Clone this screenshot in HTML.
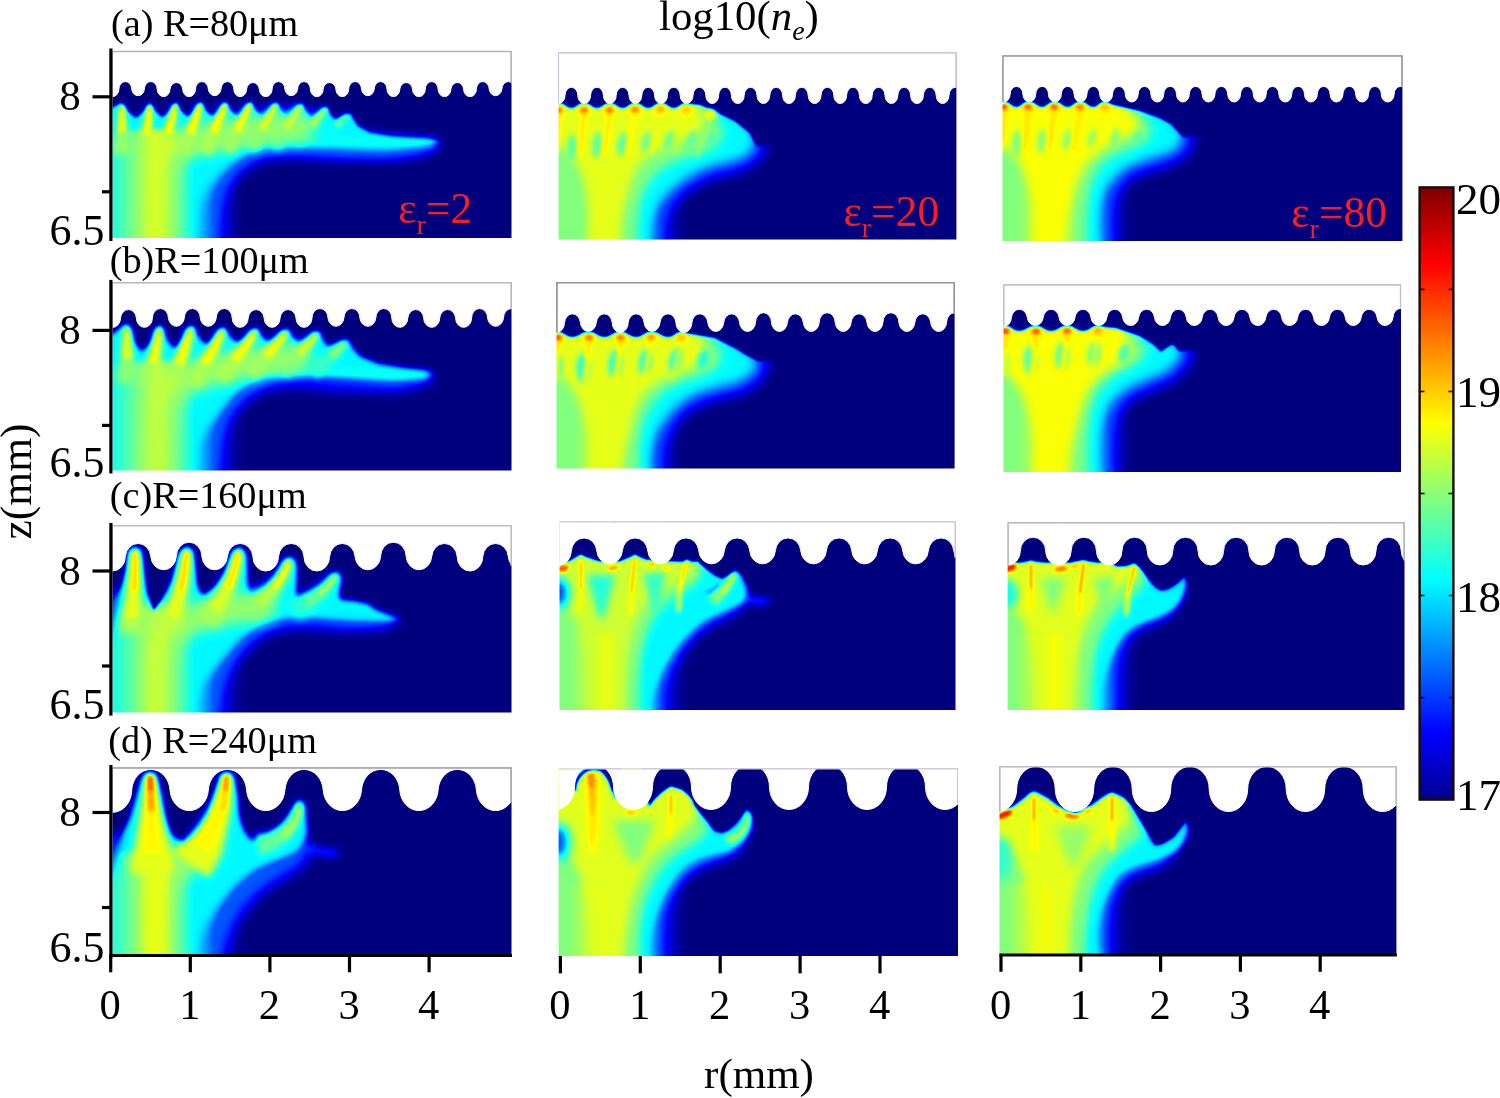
<!DOCTYPE html>
<html><head><meta charset="utf-8"><title>log10(ne)</title>
<style>html,body{margin:0;padding:0;background:#fff;overflow:hidden}body{width:1500px;height:1098px;position:relative}</style>
</head><body>
<svg width="1500" height="1098" viewBox="0 0 1500 1098" style="position:absolute;left:0;top:0">
<defs><linearGradient id="Ga11" gradientUnits="userSpaceOnUse" x1="72.5" y1="0" x2="238.5" y2="0"><stop offset="0.000" stop-color="rgb(102,102,102)"/><stop offset="0.241" stop-color="rgb(102,102,102)"/><stop offset="0.373" stop-color="rgb(128,128,128)"/><stop offset="0.500" stop-color="rgb(153,153,153)"/><stop offset="0.627" stop-color="rgb(128,128,128)"/><stop offset="0.723" stop-color="rgb(97,97,97)"/><stop offset="0.825" stop-color="rgb(64,64,64)"/><stop offset="0.904" stop-color="rgb(32,32,32)"/><stop offset="1.000" stop-color="rgb(0,0,0)"/></linearGradient><filter id="Ba15" filterUnits="userSpaceOnUse" x="52.5" y="-9" width="519" height="307" color-interpolation-filters="sRGB"><feGaussianBlur stdDeviation="5"/></filter><filter id="Ba11_8" filterUnits="userSpaceOnUse" x="52.5" y="-9" width="519" height="307" color-interpolation-filters="sRGB"><feGaussianBlur stdDeviation="1.8"/></filter><filter id="Ba15_5" filterUnits="userSpaceOnUse" x="52.5" y="-9" width="519" height="307" color-interpolation-filters="sRGB"><feGaussianBlur stdDeviation="5.5"/></filter><filter id="Ba16" filterUnits="userSpaceOnUse" x="52.5" y="-9" width="519" height="307" color-interpolation-filters="sRGB"><feGaussianBlur stdDeviation="6"/></filter><filter id="Ba13" filterUnits="userSpaceOnUse" x="52.5" y="-9" width="519" height="307" color-interpolation-filters="sRGB"><feGaussianBlur stdDeviation="3"/></filter><filter id="Ba17" filterUnits="userSpaceOnUse" x="52.5" y="-9" width="519" height="307" color-interpolation-filters="sRGB"><feGaussianBlur stdDeviation="7"/></filter><filter id="Ba11_7" filterUnits="userSpaceOnUse" x="52.5" y="-9" width="519" height="307" color-interpolation-filters="sRGB"><feGaussianBlur stdDeviation="1.7"/></filter><clipPath id="Ca1"><rect x="112.5" y="51" width="399" height="187"/></clipPath><filter id="jeta1" filterUnits="userSpaceOnUse" x="106.5" y="45" width="411" height="199" color-interpolation-filters="sRGB"><feComponentTransfer><feFuncR type="table" tableValues="0 0 0 0 0.5 1 1 1 0.5"/><feFuncG type="table" tableValues="0 0 0.5 1 1 1 0.5 0 0"/><feFuncB type="table" tableValues="0.5 1 1 1 0.5 0 0 0 0"/></feComponentTransfer></filter>
<linearGradient id="Ga21" gradientUnits="userSpaceOnUse" x1="518.6" y1="0" x2="680.6" y2="0"><stop offset="0.000" stop-color="rgb(117,117,117)"/><stop offset="0.247" stop-color="rgb(117,117,117)"/><stop offset="0.401" stop-color="rgb(130,130,130)"/><stop offset="0.469" stop-color="rgb(145,145,145)"/><stop offset="0.531" stop-color="rgb(158,158,158)"/><stop offset="0.593" stop-color="rgb(145,145,145)"/><stop offset="0.685" stop-color="rgb(122,122,122)"/><stop offset="0.778" stop-color="rgb(97,97,97)"/><stop offset="0.846" stop-color="rgb(64,64,64)"/><stop offset="0.901" stop-color="rgb(33,33,33)"/><stop offset="1.000" stop-color="rgb(0,0,0)"/></linearGradient><filter id="Ba26" filterUnits="userSpaceOnUse" x="498.6" y="-7.5" width="517.8" height="306.9" color-interpolation-filters="sRGB"><feGaussianBlur stdDeviation="6"/></filter><filter id="Ba24" filterUnits="userSpaceOnUse" x="498.6" y="-7.5" width="517.8" height="306.9" color-interpolation-filters="sRGB"><feGaussianBlur stdDeviation="4"/></filter><filter id="Ba25_5" filterUnits="userSpaceOnUse" x="498.6" y="-7.5" width="517.8" height="306.9" color-interpolation-filters="sRGB"><feGaussianBlur stdDeviation="5.5"/></filter><filter id="Ba25" filterUnits="userSpaceOnUse" x="498.6" y="-7.5" width="517.8" height="306.9" color-interpolation-filters="sRGB"><feGaussianBlur stdDeviation="5"/></filter><filter id="Ba22_5" filterUnits="userSpaceOnUse" x="498.6" y="-7.5" width="517.8" height="306.9" color-interpolation-filters="sRGB"><feGaussianBlur stdDeviation="2.5"/></filter><filter id="Ba22" filterUnits="userSpaceOnUse" x="498.6" y="-7.5" width="517.8" height="306.9" color-interpolation-filters="sRGB"><feGaussianBlur stdDeviation="2"/></filter><filter id="Ba21_1" filterUnits="userSpaceOnUse" x="498.6" y="-7.5" width="517.8" height="306.9" color-interpolation-filters="sRGB"><feGaussianBlur stdDeviation="1.1"/></filter><filter id="Ba22_2" filterUnits="userSpaceOnUse" x="498.6" y="-7.5" width="517.8" height="306.9" color-interpolation-filters="sRGB"><feGaussianBlur stdDeviation="2.2"/></filter><filter id="Ba21_5" filterUnits="userSpaceOnUse" x="498.6" y="-7.5" width="517.8" height="306.9" color-interpolation-filters="sRGB"><feGaussianBlur stdDeviation="1.5"/></filter><clipPath id="Ca2"><rect x="558.6" y="52.5" width="397.8" height="186.9"/></clipPath><filter id="jeta2" filterUnits="userSpaceOnUse" x="552.6" y="46.5" width="409.8" height="198.9" color-interpolation-filters="sRGB"><feComponentTransfer><feFuncR type="table" tableValues="0 0 0 0 0.5 1 1 1 0.5"/><feFuncG type="table" tableValues="0 0 0.5 1 1 1 0.5 0 0"/><feFuncB type="table" tableValues="0.5 1 1 1 0.5 0 0 0 0"/></feComponentTransfer></filter>
<linearGradient id="Ga31" gradientUnits="userSpaceOnUse" x1="962.5" y1="0" x2="1127.5" y2="0"><stop offset="0.000" stop-color="rgb(120,120,120)"/><stop offset="0.242" stop-color="rgb(120,120,120)"/><stop offset="0.394" stop-color="rgb(135,135,135)"/><stop offset="0.461" stop-color="rgb(150,150,150)"/><stop offset="0.527" stop-color="rgb(161,161,161)"/><stop offset="0.606" stop-color="rgb(150,150,150)"/><stop offset="0.703" stop-color="rgb(125,125,125)"/><stop offset="0.794" stop-color="rgb(97,97,97)"/><stop offset="0.855" stop-color="rgb(64,64,64)"/><stop offset="0.909" stop-color="rgb(33,33,33)"/><stop offset="1.000" stop-color="rgb(0,0,0)"/></linearGradient><filter id="Ba36" filterUnits="userSpaceOnUse" x="942.5" y="-4.5" width="519.9" height="305.5" color-interpolation-filters="sRGB"><feGaussianBlur stdDeviation="6"/></filter><filter id="Ba34" filterUnits="userSpaceOnUse" x="942.5" y="-4.5" width="519.9" height="305.5" color-interpolation-filters="sRGB"><feGaussianBlur stdDeviation="4"/></filter><filter id="Ba35_5" filterUnits="userSpaceOnUse" x="942.5" y="-4.5" width="519.9" height="305.5" color-interpolation-filters="sRGB"><feGaussianBlur stdDeviation="5.5"/></filter><filter id="Ba35" filterUnits="userSpaceOnUse" x="942.5" y="-4.5" width="519.9" height="305.5" color-interpolation-filters="sRGB"><feGaussianBlur stdDeviation="5"/></filter><filter id="Ba32_5" filterUnits="userSpaceOnUse" x="942.5" y="-4.5" width="519.9" height="305.5" color-interpolation-filters="sRGB"><feGaussianBlur stdDeviation="2.5"/></filter><filter id="Ba32" filterUnits="userSpaceOnUse" x="942.5" y="-4.5" width="519.9" height="305.5" color-interpolation-filters="sRGB"><feGaussianBlur stdDeviation="2"/></filter><filter id="Ba31_1" filterUnits="userSpaceOnUse" x="942.5" y="-4.5" width="519.9" height="305.5" color-interpolation-filters="sRGB"><feGaussianBlur stdDeviation="1.1"/></filter><filter id="Ba32_2" filterUnits="userSpaceOnUse" x="942.5" y="-4.5" width="519.9" height="305.5" color-interpolation-filters="sRGB"><feGaussianBlur stdDeviation="2.2"/></filter><filter id="Ba31_5" filterUnits="userSpaceOnUse" x="942.5" y="-4.5" width="519.9" height="305.5" color-interpolation-filters="sRGB"><feGaussianBlur stdDeviation="1.5"/></filter><clipPath id="Ca3"><rect x="1002.5" y="55.5" width="399.9" height="185.5"/></clipPath><filter id="jeta3" filterUnits="userSpaceOnUse" x="996.5" y="49.5" width="411.9" height="197.5" color-interpolation-filters="sRGB"><feComponentTransfer><feFuncR type="table" tableValues="0 0 0 0 0.5 1 1 1 0.5"/><feFuncG type="table" tableValues="0 0 0.5 1 1 1 0.5 0 0"/><feFuncB type="table" tableValues="0.5 1 1 1 0.5 0 0 0 0"/></feComponentTransfer></filter>
<linearGradient id="Gb11" gradientUnits="userSpaceOnUse" x1="72.5" y1="0" x2="238.5" y2="0"><stop offset="0.000" stop-color="rgb(99,99,99)"/><stop offset="0.241" stop-color="rgb(99,99,99)"/><stop offset="0.373" stop-color="rgb(122,122,122)"/><stop offset="0.512" stop-color="rgb(148,148,148)"/><stop offset="0.627" stop-color="rgb(125,125,125)"/><stop offset="0.729" stop-color="rgb(97,97,97)"/><stop offset="0.825" stop-color="rgb(64,64,64)"/><stop offset="0.904" stop-color="rgb(32,32,32)"/><stop offset="1.000" stop-color="rgb(0,0,0)"/></linearGradient><filter id="Bb16" filterUnits="userSpaceOnUse" x="52.5" y="222.4" width="519" height="308.1" color-interpolation-filters="sRGB"><feGaussianBlur stdDeviation="6"/></filter><filter id="Bb11_9" filterUnits="userSpaceOnUse" x="52.5" y="222.4" width="519" height="308.1" color-interpolation-filters="sRGB"><feGaussianBlur stdDeviation="1.9"/></filter><filter id="Bb14_5" filterUnits="userSpaceOnUse" x="52.5" y="222.4" width="519" height="308.1" color-interpolation-filters="sRGB"><feGaussianBlur stdDeviation="4.5"/></filter><filter id="Bb13" filterUnits="userSpaceOnUse" x="52.5" y="222.4" width="519" height="308.1" color-interpolation-filters="sRGB"><feGaussianBlur stdDeviation="3"/></filter><filter id="Bb17" filterUnits="userSpaceOnUse" x="52.5" y="222.4" width="519" height="308.1" color-interpolation-filters="sRGB"><feGaussianBlur stdDeviation="7"/></filter><filter id="Bb15" filterUnits="userSpaceOnUse" x="52.5" y="222.4" width="519" height="308.1" color-interpolation-filters="sRGB"><feGaussianBlur stdDeviation="5"/></filter><filter id="Bb13_2" filterUnits="userSpaceOnUse" x="52.5" y="222.4" width="519" height="308.1" color-interpolation-filters="sRGB"><feGaussianBlur stdDeviation="3.2"/></filter><clipPath id="Cb1"><rect x="112.5" y="282.4" width="399" height="188.1"/></clipPath><filter id="jetb1" filterUnits="userSpaceOnUse" x="106.5" y="276.4" width="411" height="200.1" color-interpolation-filters="sRGB"><feComponentTransfer><feFuncR type="table" tableValues="0 0 0 0 0.5 1 1 1 0.5"/><feFuncG type="table" tableValues="0 0 0.5 1 1 1 0.5 0 0"/><feFuncB type="table" tableValues="0.5 1 1 1 0.5 0 0 0 0"/></feComponentTransfer></filter>
<linearGradient id="Gb21" gradientUnits="userSpaceOnUse" x1="516.5" y1="0" x2="677.5" y2="0"><stop offset="0.000" stop-color="rgb(117,117,117)"/><stop offset="0.248" stop-color="rgb(117,117,117)"/><stop offset="0.404" stop-color="rgb(133,133,133)"/><stop offset="0.478" stop-color="rgb(148,148,148)"/><stop offset="0.547" stop-color="rgb(158,158,158)"/><stop offset="0.609" stop-color="rgb(148,148,148)"/><stop offset="0.702" stop-color="rgb(125,125,125)"/><stop offset="0.789" stop-color="rgb(97,97,97)"/><stop offset="0.851" stop-color="rgb(61,61,61)"/><stop offset="0.901" stop-color="rgb(33,33,33)"/><stop offset="1.000" stop-color="rgb(0,0,0)"/></linearGradient><filter id="Bb26" filterUnits="userSpaceOnUse" x="496.5" y="222.4" width="518.1" height="306" color-interpolation-filters="sRGB"><feGaussianBlur stdDeviation="6"/></filter><filter id="Bb24" filterUnits="userSpaceOnUse" x="496.5" y="222.4" width="518.1" height="306" color-interpolation-filters="sRGB"><feGaussianBlur stdDeviation="4"/></filter><filter id="Bb25_5" filterUnits="userSpaceOnUse" x="496.5" y="222.4" width="518.1" height="306" color-interpolation-filters="sRGB"><feGaussianBlur stdDeviation="5.5"/></filter><filter id="Bb25" filterUnits="userSpaceOnUse" x="496.5" y="222.4" width="518.1" height="306" color-interpolation-filters="sRGB"><feGaussianBlur stdDeviation="5"/></filter><filter id="Bb22_5" filterUnits="userSpaceOnUse" x="496.5" y="222.4" width="518.1" height="306" color-interpolation-filters="sRGB"><feGaussianBlur stdDeviation="2.5"/></filter><filter id="Bb22" filterUnits="userSpaceOnUse" x="496.5" y="222.4" width="518.1" height="306" color-interpolation-filters="sRGB"><feGaussianBlur stdDeviation="2"/></filter><filter id="Bb21_1" filterUnits="userSpaceOnUse" x="496.5" y="222.4" width="518.1" height="306" color-interpolation-filters="sRGB"><feGaussianBlur stdDeviation="1.1"/></filter><filter id="Bb22_2" filterUnits="userSpaceOnUse" x="496.5" y="222.4" width="518.1" height="306" color-interpolation-filters="sRGB"><feGaussianBlur stdDeviation="2.2"/></filter><filter id="Bb21_5" filterUnits="userSpaceOnUse" x="496.5" y="222.4" width="518.1" height="306" color-interpolation-filters="sRGB"><feGaussianBlur stdDeviation="1.5"/></filter><clipPath id="Cb2"><rect x="556.5" y="282.4" width="398.1" height="186"/></clipPath><filter id="jetb2" filterUnits="userSpaceOnUse" x="550.5" y="276.4" width="410.1" height="198" color-interpolation-filters="sRGB"><feComponentTransfer><feFuncR type="table" tableValues="0 0 0 0 0.5 1 1 1 0.5"/><feFuncG type="table" tableValues="0 0 0.5 1 1 1 0.5 0 0"/><feFuncB type="table" tableValues="0.5 1 1 1 0.5 0 0 0 0"/></feComponentTransfer></filter>
<linearGradient id="Gb31" gradientUnits="userSpaceOnUse" x1="963.4" y1="0" x2="1127.4" y2="0"><stop offset="0.000" stop-color="rgb(120,120,120)"/><stop offset="0.244" stop-color="rgb(120,120,120)"/><stop offset="0.396" stop-color="rgb(135,135,135)"/><stop offset="0.463" stop-color="rgb(150,150,150)"/><stop offset="0.530" stop-color="rgb(161,161,161)"/><stop offset="0.610" stop-color="rgb(150,150,150)"/><stop offset="0.707" stop-color="rgb(125,125,125)"/><stop offset="0.799" stop-color="rgb(97,97,97)"/><stop offset="0.860" stop-color="rgb(64,64,64)"/><stop offset="0.915" stop-color="rgb(33,33,33)"/><stop offset="1.000" stop-color="rgb(0,0,0)"/></linearGradient><filter id="Bb36" filterUnits="userSpaceOnUse" x="943.4" y="224.5" width="517.6" height="307.5" color-interpolation-filters="sRGB"><feGaussianBlur stdDeviation="6"/></filter><filter id="Bb34" filterUnits="userSpaceOnUse" x="943.4" y="224.5" width="517.6" height="307.5" color-interpolation-filters="sRGB"><feGaussianBlur stdDeviation="4"/></filter><filter id="Bb35_5" filterUnits="userSpaceOnUse" x="943.4" y="224.5" width="517.6" height="307.5" color-interpolation-filters="sRGB"><feGaussianBlur stdDeviation="5.5"/></filter><filter id="Bb35" filterUnits="userSpaceOnUse" x="943.4" y="224.5" width="517.6" height="307.5" color-interpolation-filters="sRGB"><feGaussianBlur stdDeviation="5"/></filter><filter id="Bb32_5" filterUnits="userSpaceOnUse" x="943.4" y="224.5" width="517.6" height="307.5" color-interpolation-filters="sRGB"><feGaussianBlur stdDeviation="2.5"/></filter><filter id="Bb32" filterUnits="userSpaceOnUse" x="943.4" y="224.5" width="517.6" height="307.5" color-interpolation-filters="sRGB"><feGaussianBlur stdDeviation="2"/></filter><filter id="Bb31_1" filterUnits="userSpaceOnUse" x="943.4" y="224.5" width="517.6" height="307.5" color-interpolation-filters="sRGB"><feGaussianBlur stdDeviation="1.1"/></filter><filter id="Bb32_2" filterUnits="userSpaceOnUse" x="943.4" y="224.5" width="517.6" height="307.5" color-interpolation-filters="sRGB"><feGaussianBlur stdDeviation="2.2"/></filter><filter id="Bb31_5" filterUnits="userSpaceOnUse" x="943.4" y="224.5" width="517.6" height="307.5" color-interpolation-filters="sRGB"><feGaussianBlur stdDeviation="1.5"/></filter><clipPath id="Cb3"><rect x="1003.4" y="284.5" width="397.6" height="187.5"/></clipPath><filter id="jetb3" filterUnits="userSpaceOnUse" x="997.4" y="278.5" width="409.6" height="199.5" color-interpolation-filters="sRGB"><feComponentTransfer><feFuncR type="table" tableValues="0 0 0 0 0.5 1 1 1 0.5"/><feFuncG type="table" tableValues="0 0 0.5 1 1 1 0.5 0 0"/><feFuncB type="table" tableValues="0.5 1 1 1 0.5 0 0 0 0"/></feComponentTransfer></filter>
<linearGradient id="Gc11" gradientUnits="userSpaceOnUse" x1="72.5" y1="0" x2="238.5" y2="0"><stop offset="0.000" stop-color="rgb(99,99,99)"/><stop offset="0.241" stop-color="rgb(99,99,99)"/><stop offset="0.373" stop-color="rgb(122,122,122)"/><stop offset="0.506" stop-color="rgb(148,148,148)"/><stop offset="0.627" stop-color="rgb(125,125,125)"/><stop offset="0.729" stop-color="rgb(97,97,97)"/><stop offset="0.825" stop-color="rgb(64,64,64)"/><stop offset="0.904" stop-color="rgb(32,32,32)"/><stop offset="1.000" stop-color="rgb(0,0,0)"/></linearGradient><filter id="Bc18" filterUnits="userSpaceOnUse" x="52.5" y="465.4" width="519" height="307.2" color-interpolation-filters="sRGB"><feGaussianBlur stdDeviation="8"/></filter><filter id="Bc12_2" filterUnits="userSpaceOnUse" x="52.5" y="465.4" width="519" height="307.2" color-interpolation-filters="sRGB"><feGaussianBlur stdDeviation="2.2"/></filter><filter id="Bc14_5" filterUnits="userSpaceOnUse" x="52.5" y="465.4" width="519" height="307.2" color-interpolation-filters="sRGB"><feGaussianBlur stdDeviation="4.5"/></filter><filter id="Bc16" filterUnits="userSpaceOnUse" x="52.5" y="465.4" width="519" height="307.2" color-interpolation-filters="sRGB"><feGaussianBlur stdDeviation="6"/></filter><filter id="Bc17" filterUnits="userSpaceOnUse" x="52.5" y="465.4" width="519" height="307.2" color-interpolation-filters="sRGB"><feGaussianBlur stdDeviation="7"/></filter><filter id="Bc15" filterUnits="userSpaceOnUse" x="52.5" y="465.4" width="519" height="307.2" color-interpolation-filters="sRGB"><feGaussianBlur stdDeviation="5"/></filter><filter id="Bc11_8" filterUnits="userSpaceOnUse" x="52.5" y="465.4" width="519" height="307.2" color-interpolation-filters="sRGB"><feGaussianBlur stdDeviation="1.8"/></filter><filter id="Bc14" filterUnits="userSpaceOnUse" x="52.5" y="465.4" width="519" height="307.2" color-interpolation-filters="sRGB"><feGaussianBlur stdDeviation="4"/></filter><filter id="Bc12_8" filterUnits="userSpaceOnUse" x="52.5" y="465.4" width="519" height="307.2" color-interpolation-filters="sRGB"><feGaussianBlur stdDeviation="2.8"/></filter><clipPath id="Cc1"><rect x="112.5" y="525.4" width="399" height="187.2"/></clipPath><filter id="jetc1" filterUnits="userSpaceOnUse" x="106.5" y="519.4" width="411" height="199.2" color-interpolation-filters="sRGB"><feComponentTransfer><feFuncR type="table" tableValues="0 0 0 0 0.5 1 1 1 0.5"/><feFuncG type="table" tableValues="0 0 0.5 1 1 1 0.5 0 0"/><feFuncB type="table" tableValues="0.5 1 1 1 0.5 0 0 0 0"/></feComponentTransfer></filter>
<linearGradient id="Gc21" gradientUnits="userSpaceOnUse" x1="519.5" y1="0" x2="681.5" y2="0"><stop offset="0.000" stop-color="rgb(120,120,120)"/><stop offset="0.247" stop-color="rgb(120,120,120)"/><stop offset="0.401" stop-color="rgb(140,140,140)"/><stop offset="0.537" stop-color="rgb(158,158,158)"/><stop offset="0.630" stop-color="rgb(145,145,145)"/><stop offset="0.685" stop-color="rgb(128,128,128)"/><stop offset="0.778" stop-color="rgb(97,97,97)"/><stop offset="0.846" stop-color="rgb(64,64,64)"/><stop offset="0.901" stop-color="rgb(33,33,33)"/><stop offset="1.000" stop-color="rgb(0,0,0)"/></linearGradient><filter id="Bc27" filterUnits="userSpaceOnUse" x="499.5" y="461.5" width="516" height="308.5" color-interpolation-filters="sRGB"><feGaussianBlur stdDeviation="7"/></filter><filter id="Bc22_6" filterUnits="userSpaceOnUse" x="499.5" y="461.5" width="516" height="308.5" color-interpolation-filters="sRGB"><feGaussianBlur stdDeviation="2.6"/></filter><filter id="Bc25_5" filterUnits="userSpaceOnUse" x="499.5" y="461.5" width="516" height="308.5" color-interpolation-filters="sRGB"><feGaussianBlur stdDeviation="5.5"/></filter><filter id="Bc25" filterUnits="userSpaceOnUse" x="499.5" y="461.5" width="516" height="308.5" color-interpolation-filters="sRGB"><feGaussianBlur stdDeviation="5"/></filter><filter id="Bc23" filterUnits="userSpaceOnUse" x="499.5" y="461.5" width="516" height="308.5" color-interpolation-filters="sRGB"><feGaussianBlur stdDeviation="3"/></filter><filter id="Bc21_8" filterUnits="userSpaceOnUse" x="499.5" y="461.5" width="516" height="308.5" color-interpolation-filters="sRGB"><feGaussianBlur stdDeviation="1.8"/></filter><filter id="Bc21_4" filterUnits="userSpaceOnUse" x="499.5" y="461.5" width="516" height="308.5" color-interpolation-filters="sRGB"><feGaussianBlur stdDeviation="1.4"/></filter><filter id="Bc22_2" filterUnits="userSpaceOnUse" x="499.5" y="461.5" width="516" height="308.5" color-interpolation-filters="sRGB"><feGaussianBlur stdDeviation="2.2"/></filter><filter id="Bc23_5" filterUnits="userSpaceOnUse" x="499.5" y="461.5" width="516" height="308.5" color-interpolation-filters="sRGB"><feGaussianBlur stdDeviation="3.5"/></filter><filter id="Bc22_5" filterUnits="userSpaceOnUse" x="499.5" y="461.5" width="516" height="308.5" color-interpolation-filters="sRGB"><feGaussianBlur stdDeviation="2.5"/></filter><filter id="Bc23_2" filterUnits="userSpaceOnUse" x="499.5" y="461.5" width="516" height="308.5" color-interpolation-filters="sRGB"><feGaussianBlur stdDeviation="3.2"/></filter><filter id="Bc22_8" filterUnits="userSpaceOnUse" x="499.5" y="461.5" width="516" height="308.5" color-interpolation-filters="sRGB"><feGaussianBlur stdDeviation="2.8"/></filter><filter id="Bc21_2" filterUnits="userSpaceOnUse" x="499.5" y="461.5" width="516" height="308.5" color-interpolation-filters="sRGB"><feGaussianBlur stdDeviation="1.2"/></filter><filter id="Bc21_3" filterUnits="userSpaceOnUse" x="499.5" y="461.5" width="516" height="308.5" color-interpolation-filters="sRGB"><feGaussianBlur stdDeviation="1.3"/></filter><filter id="Bc21_5" filterUnits="userSpaceOnUse" x="499.5" y="461.5" width="516" height="308.5" color-interpolation-filters="sRGB"><feGaussianBlur stdDeviation="1.5"/></filter><clipPath id="Cc2"><rect x="559.5" y="521.5" width="396" height="188.5"/></clipPath><filter id="jetc2" filterUnits="userSpaceOnUse" x="553.5" y="515.5" width="408" height="200.5" color-interpolation-filters="sRGB"><feComponentTransfer><feFuncR type="table" tableValues="0 0 0 0 0.5 1 1 1 0.5"/><feFuncG type="table" tableValues="0 0 0.5 1 1 1 0.5 0 0"/><feFuncB type="table" tableValues="0.5 1 1 1 0.5 0 0 0 0"/></feComponentTransfer></filter>
<linearGradient id="Gc31" gradientUnits="userSpaceOnUse" x1="967.6" y1="0" x2="1131.6" y2="0"><stop offset="0.000" stop-color="rgb(122,122,122)"/><stop offset="0.244" stop-color="rgb(122,122,122)"/><stop offset="0.396" stop-color="rgb(143,143,143)"/><stop offset="0.524" stop-color="rgb(161,161,161)"/><stop offset="0.634" stop-color="rgb(148,148,148)"/><stop offset="0.707" stop-color="rgb(128,128,128)"/><stop offset="0.799" stop-color="rgb(97,97,97)"/><stop offset="0.860" stop-color="rgb(64,64,64)"/><stop offset="0.915" stop-color="rgb(33,33,33)"/><stop offset="1.000" stop-color="rgb(0,0,0)"/></linearGradient><filter id="Bc37" filterUnits="userSpaceOnUse" x="947.6" y="462.4" width="516.9" height="307.6" color-interpolation-filters="sRGB"><feGaussianBlur stdDeviation="7"/></filter><filter id="Bc32_4" filterUnits="userSpaceOnUse" x="947.6" y="462.4" width="516.9" height="307.6" color-interpolation-filters="sRGB"><feGaussianBlur stdDeviation="2.4"/></filter><filter id="Bc35_5" filterUnits="userSpaceOnUse" x="947.6" y="462.4" width="516.9" height="307.6" color-interpolation-filters="sRGB"><feGaussianBlur stdDeviation="5.5"/></filter><filter id="Bc35" filterUnits="userSpaceOnUse" x="947.6" y="462.4" width="516.9" height="307.6" color-interpolation-filters="sRGB"><feGaussianBlur stdDeviation="5"/></filter><filter id="Bc31_3" filterUnits="userSpaceOnUse" x="947.6" y="462.4" width="516.9" height="307.6" color-interpolation-filters="sRGB"><feGaussianBlur stdDeviation="1.3"/></filter><filter id="Bc32_2" filterUnits="userSpaceOnUse" x="947.6" y="462.4" width="516.9" height="307.6" color-interpolation-filters="sRGB"><feGaussianBlur stdDeviation="2.2"/></filter><filter id="Bc33_5" filterUnits="userSpaceOnUse" x="947.6" y="462.4" width="516.9" height="307.6" color-interpolation-filters="sRGB"><feGaussianBlur stdDeviation="3.5"/></filter><filter id="Bc34" filterUnits="userSpaceOnUse" x="947.6" y="462.4" width="516.9" height="307.6" color-interpolation-filters="sRGB"><feGaussianBlur stdDeviation="4"/></filter><filter id="Bc31_2" filterUnits="userSpaceOnUse" x="947.6" y="462.4" width="516.9" height="307.6" color-interpolation-filters="sRGB"><feGaussianBlur stdDeviation="1.2"/></filter><filter id="Bc31_5" filterUnits="userSpaceOnUse" x="947.6" y="462.4" width="516.9" height="307.6" color-interpolation-filters="sRGB"><feGaussianBlur stdDeviation="1.5"/></filter><clipPath id="Cc3"><rect x="1007.6" y="522.4" width="396.9" height="187.6"/></clipPath><filter id="jetc3" filterUnits="userSpaceOnUse" x="1001.6" y="516.4" width="408.9" height="199.6" color-interpolation-filters="sRGB"><feComponentTransfer><feFuncR type="table" tableValues="0 0 0 0 0.5 1 1 1 0.5"/><feFuncG type="table" tableValues="0 0 0.5 1 1 1 0.5 0 0"/><feFuncB type="table" tableValues="0.5 1 1 1 0.5 0 0 0 0"/></feComponentTransfer></filter>
<linearGradient id="Gd11" gradientUnits="userSpaceOnUse" x1="72.5" y1="0" x2="238.5" y2="0"><stop offset="0.000" stop-color="rgb(102,102,102)"/><stop offset="0.241" stop-color="rgb(102,102,102)"/><stop offset="0.373" stop-color="rgb(128,128,128)"/><stop offset="0.500" stop-color="rgb(156,156,156)"/><stop offset="0.614" stop-color="rgb(128,128,128)"/><stop offset="0.723" stop-color="rgb(97,97,97)"/><stop offset="0.825" stop-color="rgb(64,64,64)"/><stop offset="0.904" stop-color="rgb(32,32,32)"/><stop offset="1.000" stop-color="rgb(0,0,0)"/></linearGradient><filter id="Bd18" filterUnits="userSpaceOnUse" x="52.5" y="707.5" width="519" height="307.5" color-interpolation-filters="sRGB"><feGaussianBlur stdDeviation="8"/></filter><filter id="Bd12_4" filterUnits="userSpaceOnUse" x="52.5" y="707.5" width="519" height="307.5" color-interpolation-filters="sRGB"><feGaussianBlur stdDeviation="2.4"/></filter><filter id="Bd15" filterUnits="userSpaceOnUse" x="52.5" y="707.5" width="519" height="307.5" color-interpolation-filters="sRGB"><feGaussianBlur stdDeviation="5"/></filter><filter id="Bd16_5" filterUnits="userSpaceOnUse" x="52.5" y="707.5" width="519" height="307.5" color-interpolation-filters="sRGB"><feGaussianBlur stdDeviation="6.5"/></filter><filter id="Bd13_5" filterUnits="userSpaceOnUse" x="52.5" y="707.5" width="519" height="307.5" color-interpolation-filters="sRGB"><feGaussianBlur stdDeviation="3.5"/></filter><filter id="Bd17" filterUnits="userSpaceOnUse" x="52.5" y="707.5" width="519" height="307.5" color-interpolation-filters="sRGB"><feGaussianBlur stdDeviation="7"/></filter><filter id="Bd12_2" filterUnits="userSpaceOnUse" x="52.5" y="707.5" width="519" height="307.5" color-interpolation-filters="sRGB"><feGaussianBlur stdDeviation="2.2"/></filter><filter id="Bd14" filterUnits="userSpaceOnUse" x="52.5" y="707.5" width="519" height="307.5" color-interpolation-filters="sRGB"><feGaussianBlur stdDeviation="4"/></filter><filter id="Bd12_5" filterUnits="userSpaceOnUse" x="52.5" y="707.5" width="519" height="307.5" color-interpolation-filters="sRGB"><feGaussianBlur stdDeviation="2.5"/></filter><filter id="Bd12" filterUnits="userSpaceOnUse" x="52.5" y="707.5" width="519" height="307.5" color-interpolation-filters="sRGB"><feGaussianBlur stdDeviation="2"/></filter><filter id="Bd11_6" filterUnits="userSpaceOnUse" x="52.5" y="707.5" width="519" height="307.5" color-interpolation-filters="sRGB"><feGaussianBlur stdDeviation="1.6"/></filter><filter id="Bd13_2" filterUnits="userSpaceOnUse" x="52.5" y="707.5" width="519" height="307.5" color-interpolation-filters="sRGB"><feGaussianBlur stdDeviation="3.2"/></filter><clipPath id="Cd1"><rect x="112.5" y="767.5" width="399" height="187.5"/></clipPath><filter id="jetd1" filterUnits="userSpaceOnUse" x="106.5" y="761.5" width="411" height="199.5" color-interpolation-filters="sRGB"><feComponentTransfer><feFuncR type="table" tableValues="0 0 0 0 0.5 1 1 1 0.5"/><feFuncG type="table" tableValues="0 0 0.5 1 1 1 0.5 0 0"/><feFuncB type="table" tableValues="0.5 1 1 1 0.5 0 0 0 0"/></feComponentTransfer></filter>
<linearGradient id="Gd21" gradientUnits="userSpaceOnUse" x1="518.6" y1="0" x2="680.6" y2="0"><stop offset="0.000" stop-color="rgb(120,120,120)"/><stop offset="0.247" stop-color="rgb(120,120,120)"/><stop offset="0.401" stop-color="rgb(140,140,140)"/><stop offset="0.531" stop-color="rgb(158,158,158)"/><stop offset="0.630" stop-color="rgb(145,145,145)"/><stop offset="0.685" stop-color="rgb(128,128,128)"/><stop offset="0.778" stop-color="rgb(97,97,97)"/><stop offset="0.846" stop-color="rgb(64,64,64)"/><stop offset="0.901" stop-color="rgb(33,33,33)"/><stop offset="1.000" stop-color="rgb(0,0,0)"/></linearGradient><filter id="Bd28" filterUnits="userSpaceOnUse" x="498.6" y="708.5" width="519.4" height="307.5" color-interpolation-filters="sRGB"><feGaussianBlur stdDeviation="8"/></filter><filter id="Bd22_6" filterUnits="userSpaceOnUse" x="498.6" y="708.5" width="519.4" height="307.5" color-interpolation-filters="sRGB"><feGaussianBlur stdDeviation="2.6"/></filter><filter id="Bd25_5" filterUnits="userSpaceOnUse" x="498.6" y="708.5" width="519.4" height="307.5" color-interpolation-filters="sRGB"><feGaussianBlur stdDeviation="5.5"/></filter><filter id="Bd25" filterUnits="userSpaceOnUse" x="498.6" y="708.5" width="519.4" height="307.5" color-interpolation-filters="sRGB"><feGaussianBlur stdDeviation="5"/></filter><filter id="Bd22_2" filterUnits="userSpaceOnUse" x="498.6" y="708.5" width="519.4" height="307.5" color-interpolation-filters="sRGB"><feGaussianBlur stdDeviation="2.2"/></filter><filter id="Bd23_5" filterUnits="userSpaceOnUse" x="498.6" y="708.5" width="519.4" height="307.5" color-interpolation-filters="sRGB"><feGaussianBlur stdDeviation="3.5"/></filter><filter id="Bd21_8" filterUnits="userSpaceOnUse" x="498.6" y="708.5" width="519.4" height="307.5" color-interpolation-filters="sRGB"><feGaussianBlur stdDeviation="1.8"/></filter><filter id="Bd21_3" filterUnits="userSpaceOnUse" x="498.6" y="708.5" width="519.4" height="307.5" color-interpolation-filters="sRGB"><feGaussianBlur stdDeviation="1.3"/></filter><filter id="Bd22_5" filterUnits="userSpaceOnUse" x="498.6" y="708.5" width="519.4" height="307.5" color-interpolation-filters="sRGB"><feGaussianBlur stdDeviation="2.5"/></filter><filter id="Bd24" filterUnits="userSpaceOnUse" x="498.6" y="708.5" width="519.4" height="307.5" color-interpolation-filters="sRGB"><feGaussianBlur stdDeviation="4"/></filter><filter id="Bd22_8" filterUnits="userSpaceOnUse" x="498.6" y="708.5" width="519.4" height="307.5" color-interpolation-filters="sRGB"><feGaussianBlur stdDeviation="2.8"/></filter><filter id="Bd23" filterUnits="userSpaceOnUse" x="498.6" y="708.5" width="519.4" height="307.5" color-interpolation-filters="sRGB"><feGaussianBlur stdDeviation="3"/></filter><filter id="Bd21_6" filterUnits="userSpaceOnUse" x="498.6" y="708.5" width="519.4" height="307.5" color-interpolation-filters="sRGB"><feGaussianBlur stdDeviation="1.6"/></filter><filter id="Bd20_9" filterUnits="userSpaceOnUse" x="498.6" y="708.5" width="519.4" height="307.5" color-interpolation-filters="sRGB"><feGaussianBlur stdDeviation="0.9"/></filter><clipPath id="Cd2"><rect x="558.6" y="768.5" width="399.4" height="187.5"/></clipPath><filter id="jetd2" filterUnits="userSpaceOnUse" x="552.6" y="762.5" width="411.4" height="199.5" color-interpolation-filters="sRGB"><feComponentTransfer><feFuncR type="table" tableValues="0 0 0 0 0.5 1 1 1 0.5"/><feFuncG type="table" tableValues="0 0 0.5 1 1 1 0.5 0 0"/><feFuncB type="table" tableValues="0.5 1 1 1 0.5 0 0 0 0"/></feComponentTransfer></filter>
<linearGradient id="Gd31" gradientUnits="userSpaceOnUse" x1="959.5" y1="0" x2="1123.5" y2="0"><stop offset="0.000" stop-color="rgb(122,122,122)"/><stop offset="0.244" stop-color="rgb(122,122,122)"/><stop offset="0.396" stop-color="rgb(143,143,143)"/><stop offset="0.524" stop-color="rgb(161,161,161)"/><stop offset="0.634" stop-color="rgb(148,148,148)"/><stop offset="0.707" stop-color="rgb(128,128,128)"/><stop offset="0.799" stop-color="rgb(97,97,97)"/><stop offset="0.860" stop-color="rgb(64,64,64)"/><stop offset="0.915" stop-color="rgb(33,33,33)"/><stop offset="1.000" stop-color="rgb(0,0,0)"/></linearGradient><filter id="Bd38" filterUnits="userSpaceOnUse" x="939.5" y="706.4" width="516.9" height="308.1" color-interpolation-filters="sRGB"><feGaussianBlur stdDeviation="8"/></filter><filter id="Bd32_6" filterUnits="userSpaceOnUse" x="939.5" y="706.4" width="516.9" height="308.1" color-interpolation-filters="sRGB"><feGaussianBlur stdDeviation="2.6"/></filter><filter id="Bd35_5" filterUnits="userSpaceOnUse" x="939.5" y="706.4" width="516.9" height="308.1" color-interpolation-filters="sRGB"><feGaussianBlur stdDeviation="5.5"/></filter><filter id="Bd35" filterUnits="userSpaceOnUse" x="939.5" y="706.4" width="516.9" height="308.1" color-interpolation-filters="sRGB"><feGaussianBlur stdDeviation="5"/></filter><filter id="Bd31_3" filterUnits="userSpaceOnUse" x="939.5" y="706.4" width="516.9" height="308.1" color-interpolation-filters="sRGB"><feGaussianBlur stdDeviation="1.3"/></filter><filter id="Bd32_4" filterUnits="userSpaceOnUse" x="939.5" y="706.4" width="516.9" height="308.1" color-interpolation-filters="sRGB"><feGaussianBlur stdDeviation="2.4"/></filter><filter id="Bd34" filterUnits="userSpaceOnUse" x="939.5" y="706.4" width="516.9" height="308.1" color-interpolation-filters="sRGB"><feGaussianBlur stdDeviation="4"/></filter><filter id="Bd31_4" filterUnits="userSpaceOnUse" x="939.5" y="706.4" width="516.9" height="308.1" color-interpolation-filters="sRGB"><feGaussianBlur stdDeviation="1.4"/></filter><filter id="Bd31_6" filterUnits="userSpaceOnUse" x="939.5" y="706.4" width="516.9" height="308.1" color-interpolation-filters="sRGB"><feGaussianBlur stdDeviation="1.6"/></filter><clipPath id="Cd3"><rect x="999.5" y="766.4" width="396.9" height="188.1"/></clipPath><filter id="jetd3" filterUnits="userSpaceOnUse" x="993.5" y="760.4" width="408.9" height="200.1" color-interpolation-filters="sRGB"><feComponentTransfer><feFuncR type="table" tableValues="0 0 0 0 0.5 1 1 1 0.5"/><feFuncG type="table" tableValues="0 0 0.5 1 1 1 0.5 0 0"/><feFuncB type="table" tableValues="0.5 1 1 1 0.5 0 0 0 0"/></feComponentTransfer></filter>
<linearGradient id="cbg" x1="0" y1="1" x2="0" y2="0"><stop offset="0" stop-color="#00008f"/><stop offset="0.11" stop-color="#0000ff"/><stop offset="0.235" stop-color="#0080ff"/><stop offset="0.36" stop-color="#00ffff"/><stop offset="0.49" stop-color="#80ff80"/><stop offset="0.615" stop-color="#ffff00"/><stop offset="0.745" stop-color="#ff8000"/><stop offset="0.875" stop-color="#ff0000"/><stop offset="1" stop-color="#800000"/></linearGradient>
</defs>
<rect width="1500" height="1098" fill="#fff"/>
<!-- panel a1 -->
<g clip-path="url(#Ca1)"><g filter="url(#jeta1)" style="isolation:isolate"><rect x="107.5" y="46" width="409" height="197" fill="#000"/><rect x="32.5" y="125" width="206" height="153" fill="url(#Ga11)" filter="url(#Ba15)" style="mix-blend-mode:lighten"/>
<path d="M90,150L90,112L111,108L122,102.5L127,111L136,118L145,111L150,102.5L154.7,110.8L163,117.5L171.3,110.3L176,101.5L180.5,110L188.5,117L196.5,109.8L201,101L205.3,109.8L213,117L221.3,109.8L226,101L230.1,109.8L237.5,117L246.1,109.7L251,100.8L255,109.7L262,117L271.6,109.9L277,101.3L280.8,110.2L287.5,117.5L296.8,110.8L302,102.5L305.4,111.3L311.5,118.5L321.4,112.7L327,105.5L330.2,113.8L336,120.5L345,116.9L350,112.5L353,118L358,126L370,133L392,137L426,139.5L441,141.8L430,144L400,146L350,142L300,140L250,140L200,145L150,150Z" fill="rgb(94,94,94)" filter="url(#Ba11_8)" style="mix-blend-mode:lighten"/>
<path d="M100,125C111.7,117.4 176.7,124.9 200,125C223.3,125.1 283.7,125.4 300,126C316.3,126.6 331.8,128.9 340,130C348.2,131.1 363,134 370,135C377,136 393.5,137.9 400,138.5C406.5,139.1 421.6,140 426,140.5C430.4,141 438.7,141.4 438,142.5C437.3,143.6 426.3,148.7 420,150C413.7,151.3 394.5,153.7 384,154C373.5,154.3 341.6,153 330,152.5C318.4,152 293.4,149.9 285,150C276.6,150.1 263.7,151.1 258,153C252.3,154.9 241.4,162.2 236,166C230.6,169.8 216.7,180.9 212,186C207.3,191.1 198.3,204.3 196,210C193.7,215.7 192.5,229.2 192,235C191.5,240.8 202.7,257.1 192,260C181.3,262.9 110.7,268.2 100,260C89.3,251.8 100,205.8 100,190C100,174.2 88.3,132.6 100,125Z" fill="rgb(94,94,94)" filter="url(#Ba15_5)" style="mix-blend-mode:lighten"/>
<path d="M200,150C214,146 279,146.5 300,146C321,145.5 364.8,146.3 380,146C395.2,145.7 422.9,143.3 430,143C437.1,142.7 441.2,142.4 441,143.5C440.8,144.6 433.4,150.2 428,152C422.6,153.8 405.3,157.7 395,158.5C384.7,159.3 352.2,159.2 340,159C327.8,158.8 299.1,156.9 290,157C280.9,157.1 267.5,158.4 262,160C256.5,161.6 247,167.7 243,171C239,174.3 230.9,183.4 228,188C225.1,192.6 219.9,203.9 218,210C216.1,216.1 212.7,234.2 212,240C211.3,245.8 215.7,257.7 212,260C208.3,262.3 183.7,269.3 180,260C176.3,250.7 177.7,192.8 180,180C182.3,167.2 186,154 200,150Z" fill="rgb(54,54,54)" filter="url(#Ba16)" style="mix-blend-mode:lighten"/>
<path d="M250,141C263.3,141 306.7,140.6 330,141C353.3,141.4 373,143.1 390,143.5C407,143.9 425,143.2 432,143.2" fill="none" stroke="rgb(105,105,105)" stroke-width="5" stroke-linecap="round" stroke-linejoin="round" filter="url(#Ba13)" style="mix-blend-mode:lighten"/>
<path d="M155.5,250C155.6,240 154.9,204.7 156,190C157.1,175.3 158,169.3 162,162C166,154.7 171.7,150.2 180,146C188.3,141.8 198.3,139.7 212,137C225.7,134.3 247.3,131.7 262,130C276.7,128.3 293.7,127.5 300,127" fill="none" stroke="rgb(133,133,133)" stroke-width="30" stroke-linecap="round" stroke-linejoin="round" filter="url(#Ba17)" style="mix-blend-mode:lighten"/>
<path d="M155.5,250C155.5,239.2 154.8,200.3 155.5,185C156.2,169.7 157.2,165.2 160,158C162.8,150.8 170,144.7 172,142" fill="none" stroke="rgb(148,148,148)" stroke-width="14" stroke-linecap="round" stroke-linejoin="round" filter="url(#Ba15)" style="mix-blend-mode:lighten"/>
<path d="M118.5,107.5L117.5,116.9L116.5,126.3L115.5,135.7L114.5,145.1L113.5,154.5L130.5,154.5L129.5,145.1L128.5,135.7L127.5,126.3L126.5,116.9L125.5,107.5Z" fill="rgb(133,133,133)" filter="url(#Ba13)" style="mix-blend-mode:lighten"/>
<path d="M119.8,106L119.3,111.3L119,116.6L118.5,121.9L118.2,127.2L117.8,132.5L126.2,132.5L125.8,127.2L125.5,121.9L125,116.6L124.7,111.3L124.2,106Z" fill="rgb(153,153,153)" filter="url(#Ba11_7)" style="mix-blend-mode:lighten"/>
<path d="M146.1,107.2L144.2,116.8L142.1,126.3L139.9,135.9L137.6,145.3L135.1,154.8L151.9,157.4L152.4,147.5L152.8,137.6L153,127.6L153.1,117.7L153,107.8Z" fill="rgb(135,135,135)" filter="url(#Ba13)" style="mix-blend-mode:lighten"/>
<path d="M147.5,105.8L146.5,111.4L145.6,117L144.5,122.6L143.4,128.2L142.3,133.7L150.7,134.9L151.1,129.1L151.4,123.4L151.6,117.7L151.8,111.9L151.9,106.2Z" fill="rgb(156,156,156)" filter="url(#Ba11_7)" style="mix-blend-mode:lighten"/>
<path d="M171.5,105.6L168.3,115.3L164.9,124.8L161.3,134.2L157.4,143.6L153.3,152.8L169.4,158.2L171.7,148.1L173.7,137.9L175.6,127.6L177.1,117.4L178.4,107.2Z" fill="rgb(135,135,135)" filter="url(#Ba13)" style="mix-blend-mode:lighten"/>
<path d="M173.1,104.4L171.4,110.3L169.6,116.1L167.7,121.8L165.7,127.5L163.6,133.2L171.7,135.7L173.1,129.7L174.3,123.6L175.5,117.5L176.5,111.5L177.5,105.4Z" fill="rgb(156,156,156)" filter="url(#Ba11_7)" style="mix-blend-mode:lighten"/>
<path d="M196.3,104.8L192.4,114.2L188.2,123.4L183.8,132.5L179.2,141.4L174.2,150.2L189.8,157L193,147.2L196,137.1L198.6,127.1L201,116.9L203,106.8Z" fill="rgb(138,138,138)" filter="url(#Ba13)" style="mix-blend-mode:lighten"/>
<path d="M197.9,103.7L195.8,109.4L193.5,115.1L191.2,120.6L188.7,126.1L186.2,131.6L194.1,134.7L195.9,128.9L197.7,122.9L199.3,117L200.8,111L202.2,105Z" fill="rgb(158,158,158)" filter="url(#Ba11_7)" style="mix-blend-mode:lighten"/>
<path d="M221.1,104.5L216.7,113.7L212.1,122.7L207.2,131.5L202.1,140.2L196.7,148.8L211.9,156.4L215.6,146.7L219.1,136.8L222.3,126.9L225.1,116.9L227.7,106.9Z" fill="rgb(138,138,138)" filter="url(#Ba13)" style="mix-blend-mode:lighten"/>
<path d="M222.7,103.6L220.3,109.1L217.8,114.6L215.2,120.1L212.4,125.5L209.6,130.8L217.3,134.3L219.5,128.6L221.5,122.7L223.5,116.9L225.3,111L227,105.1Z" fill="rgb(158,158,158)" filter="url(#Ba11_7)" style="mix-blend-mode:lighten"/>
<path d="M245.9,104.1L241,113L235.9,121.7L230.5,130.1L224.8,138.4L218.8,146.5L233.4,155.2L237.8,145.8L242,136.2L245.8,126.5L249.3,116.7L252.3,106.8Z" fill="rgb(135,135,135)" filter="url(#Ba13)" style="mix-blend-mode:lighten"/>
<path d="M247.6,103.2L244.9,108.6L242.1,114L239.1,119.2L236,124.4L232.8,129.5L240.3,133.6L242.9,128L245.3,122.3L247.6,116.5L249.8,110.7L251.8,104.9Z" fill="rgb(156,156,156)" filter="url(#Ba11_7)" style="mix-blend-mode:lighten"/>
<path d="M271.7,104.3L266.6,112.6L261.1,120.5L255.4,128.3L249.4,135.7L243,143.1L256.9,152.8L261.8,144.1L266.5,135.1L270.7,126L274.6,116.7L278,107.4Z" fill="rgb(130,130,130)" filter="url(#Ba13)" style="mix-blend-mode:lighten"/>
<path d="M273.5,103.5L270.7,108.4L267.7,113.2L264.7,117.9L261.5,122.6L258.1,127.1L265.3,131.6L268,126.6L270.6,121.4L273.1,116.1L275.4,110.8L277.5,105.5Z" fill="rgb(150,150,150)" filter="url(#Ba11_7)" style="mix-blend-mode:lighten"/>
<path d="M296.6,105.1L291,112.6L285.2,119.8L279.1,126.7L272.7,133.3L266,139.7L278.9,150.7L284.4,142.7L289.5,134.4L294.3,126L298.7,117.3L302.6,108.6Z" fill="rgb(125,125,125)" filter="url(#Ba13)" style="mix-blend-mode:lighten"/>
<path d="M298.4,104.4L295.4,108.8L292.3,113L289.1,117.1L285.8,121.1L282.3,125.1L289.1,130.2L292,125.7L294.8,121L297.4,116.3L299.9,111.5L302.3,106.7Z" fill="rgb(145,145,145)" filter="url(#Ba11_7)" style="mix-blend-mode:lighten"/>
<path d="M321.5,107.8L315.9,114.1L309.9,119.8L303.5,124.8L296.8,129.2L289.5,133.2L299.3,147.1L306,141.1L312.4,134.3L318.1,127.1L323.1,119.5L327.2,111.7Z" fill="rgb(115,115,115)" filter="url(#Ba13)" style="mix-blend-mode:lighten"/>
<path d="M323.3,107.2L320.5,110.7L317.5,113.9L314.4,116.8L311.1,119.6L307.6,122.2L313.3,128.6L316.5,125.2L319.5,121.5L322.3,117.7L324.8,113.8L327,109.7Z" fill="rgb(135,135,135)" filter="url(#Ba11_7)" style="mix-blend-mode:lighten"/>
<path d="M344.2,114L338.6,118.6L332.8,122.6L326.7,125.9L320.5,128.7L313.7,131.1L321.5,146.2L327.9,141.7L334.2,136.6L339.9,131L345,125L349.4,118.7Z" fill="rgb(97,97,97)" filter="url(#Ba13)" style="mix-blend-mode:lighten"/>
<path d="M346.1,113.7L343.6,115.8L341.1,117.7L338.5,119.4L335.8,121L333,122.4L337.7,129.5L340.3,127.3L342.9,124.8L345.3,122.2L347.5,119.5L349.4,116.7Z" fill="rgb(117,117,117)" filter="url(#Ba11_7)" style="mix-blend-mode:lighten"/></g><path d="M110.5,51 L110.5,96.6 L112.5,96.6 A6.4,7.5 0 0 0 118.9,89.1 A6.4,7.5 0 0 1 131.7,89.1 A6.4,7.5 0 0 0 144.4,89.1 A6.4,7.5 0 0 1 157.2,89.1 A6.4,7.5 0 0 0 170,89.1 A6.4,7.5 0 0 1 182.7,89.1 A6.4,7.5 0 0 0 195.5,89.1 A6.4,7.5 0 0 1 208.3,89.1 A6.4,7.5 0 0 0 221,89.1 A6.4,7.5 0 0 1 233.8,89.1 A6.4,7.5 0 0 0 246.6,89.1 A6.4,7.5 0 0 1 259.3,89.1 A6.4,7.5 0 0 0 272.1,89.1 A6.4,7.5 0 0 1 284.9,89.1 A6.4,7.5 0 0 0 297.6,89.1 A6.4,7.5 0 0 1 310.4,89.1 A6.4,7.5 0 0 0 323.2,89.1 A6.4,7.5 0 0 1 335.9,89.1 A6.4,7.5 0 0 0 348.7,89.1 A6.4,7.5 0 0 1 361.5,89.1 A6.4,7.5 0 0 0 374.2,89.1 A6.4,7.5 0 0 1 387,89.1 A6.4,7.5 0 0 0 399.8,89.1 A6.4,7.5 0 0 1 412.5,89.1 A6.4,7.5 0 0 0 425.3,89.1 A6.4,7.5 0 0 1 438.1,89.1 A6.4,7.5 0 0 0 450.9,89.1 A6.4,7.5 0 0 1 463.6,89.1 A6.4,7.5 0 0 0 476.4,89.1 A6.4,7.5 0 0 1 489.2,89.1 A6.4,7.5 0 0 0 501.9,89.1 A6.4,7.5 0 0 1 514.7,89.1 A6.4,7.5 0 0 0 527.5,89.1 L527.5,51 Z" fill="#fff" stroke="#fff" stroke-width="1"/></g>
<path d="M113,51.5 L511,51.5 L511,82.6" fill="none" stroke="#b4b4b4" stroke-width="1.4"/>
<!-- panel a2 -->
<g clip-path="url(#Ca2)"><g filter="url(#jeta2)" style="isolation:isolate"><rect x="553.6" y="47.5" width="407.8" height="196.9" fill="#000"/><rect x="478.6" y="150" width="202" height="129.4" fill="url(#Ga21)" filter="url(#Ba26)" style="mix-blend-mode:lighten"/>
<path d="M530,80C554.7,55.3 686.7,75.5 715,80C743.3,84.5 737.1,106.8 742,114C746.9,121.2 750.5,129.7 752,134C753.5,138.3 753.7,143.3 753,146C752.3,148.7 749.5,152.1 747,154C744.5,155.9 739.2,158.3 734,160C728.8,161.7 714.1,164.7 708,167C701.9,169.3 693.2,173.7 688,177C682.8,180.3 673.5,187.3 669,192C664.5,196.7 657.1,206.3 654,212C650.9,217.7 647.2,227.9 646,235C644.8,242.1 660.5,261 645,265C629.5,269 545.3,289.7 530,265C514.7,240.3 505.3,104.7 530,80Z" fill="rgb(51,51,51)" stroke="rgb(51,51,51)" stroke-width="24" stroke-linejoin="round" filter="url(#Ba26)" style="mix-blend-mode:lighten"/>
<path d="M530,80C554.7,55.3 686.7,75.5 715,80C743.3,84.5 737.1,106.8 742,114C746.9,121.2 750.5,129.7 752,134C753.5,138.3 753.7,143.3 753,146C752.3,148.7 749.5,152.1 747,154C744.5,155.9 739.2,158.3 734,160C728.8,161.7 714.1,164.7 708,167C701.9,169.3 693.2,173.7 688,177C682.8,180.3 673.5,187.3 669,192C664.5,196.7 657.1,206.3 654,212C650.9,217.7 647.2,227.9 646,235C644.8,242.1 660.5,261 645,265C629.5,269 545.3,289.7 530,265C514.7,240.3 505.3,104.7 530,80Z" fill="rgb(94,94,94)" filter="url(#Ba24)" style="mix-blend-mode:lighten"/>
<path d="M530,80C551.3,55.3 665.2,75.2 690,80C714.8,84.8 711.6,108.9 716,116C720.4,123.1 723,129 723,133C723,137 719.1,143.2 716,146C712.9,148.8 704.8,152.1 700,154C695.2,155.9 685.1,158 680,160C674.9,162 666.3,165.8 662,169C657.7,172.2 651.2,179.2 648,184C644.8,188.8 640.3,198.9 638,205C635.7,211.1 632.3,222 631,230C629.7,238 641.5,260.3 628,265C614.5,269.7 543.1,289.7 530,265C516.9,240.3 508.7,104.7 530,80Z" fill="rgb(128,128,128)" filter="url(#Ba25_5)" style="mix-blend-mode:lighten"/>
<path d="M530,80C550,72.3 657.3,75.7 680,80C702.7,84.3 696.8,106 700,112C703.2,118 705.1,121.7 704,125C702.9,128.3 696.3,134.3 692,137C687.7,139.7 676.9,143 672,145C667.1,147 659.1,149.7 655,152C650.9,154.3 643.9,158.8 641,162C638.1,165.2 635,171.2 633,176C631,180.8 627.9,190.8 626,198C624.1,205.2 620.2,221.1 619,230C617.8,238.9 620.6,260.3 617,265C613.4,269.7 595.6,273 592,265C588.4,257 591.6,217.7 590,205C588.4,192.3 584,178 580,170C576,162 566.7,149.3 560,145C553.3,140.7 534,146.7 530,138C526,129.3 510,87.7 530,80Z" fill="rgb(153,153,153)" filter="url(#Ba25)" style="mix-blend-mode:lighten"/>
<ellipse cx="572" cy="147" rx="4.5" ry="13" fill="rgb(117,117,117)" filter="url(#Ba22_5)"/>
<ellipse cx="597" cy="145" rx="4.5" ry="13" fill="rgb(117,117,117)" transform="rotate(5 597 145)" filter="url(#Ba22_5)"/>
<ellipse cx="622" cy="144" rx="4.5" ry="12" fill="rgb(117,117,117)" transform="rotate(9 622 144)" filter="url(#Ba22_5)"/>
<ellipse cx="646" cy="142" rx="4" ry="11" fill="rgb(120,120,120)" transform="rotate(13 646 142)" filter="url(#Ba22_5)"/>
<ellipse cx="669" cy="140" rx="4" ry="10" fill="rgb(120,120,120)" transform="rotate(17 669 140)" filter="url(#Ba22_5)"/>
<ellipse cx="691" cy="139" rx="3.5" ry="9" fill="rgb(117,117,117)" transform="rotate(21 691 139)" filter="url(#Ba22_5)"/>
<ellipse cx="711" cy="140" rx="3" ry="8" fill="rgb(112,112,112)" transform="rotate(26 711 140)" filter="url(#Ba22_5)"/>
<path d="M558.6,115C558.5,117.8 558.1,125.8 557.8,132C557.5,138.2 556.8,148.7 556.6,152" fill="none" stroke="rgb(168,168,168)" stroke-width="4.5" stroke-linecap="round" stroke-linejoin="round" filter="url(#Ba22)" style="mix-blend-mode:lighten"/>
<path d="M584,115C583.7,117.8 583.1,125.8 582.5,132C581.8,138.2 580.6,148.7 580.2,152" fill="none" stroke="rgb(168,168,168)" stroke-width="4.5" stroke-linecap="round" stroke-linejoin="round" filter="url(#Ba22)" style="mix-blend-mode:lighten"/>
<path d="M609.6,115C609.2,117.8 608.3,125.8 607.4,132C606.4,138.2 604.6,148.7 604,152" fill="none" stroke="rgb(168,168,168)" stroke-width="4.5" stroke-linecap="round" stroke-linejoin="round" filter="url(#Ba22)" style="mix-blend-mode:lighten"/>
<path d="M635,114.5C634.5,117.3 633.3,125.3 632,131.5C630.8,137.7 628.3,148.2 627.6,151.5" fill="none" stroke="rgb(163,163,163)" stroke-width="4.5" stroke-linecap="round" stroke-linejoin="round" filter="url(#Ba22)" style="mix-blend-mode:lighten"/>
<path d="M660.6,114C660,116.8 658.5,124.8 656.9,131C655.4,137.2 652.3,147.7 651.4,151" fill="none" stroke="rgb(153,153,153)" stroke-width="4.5" stroke-linecap="round" stroke-linejoin="round" filter="url(#Ba22)" style="mix-blend-mode:lighten"/>
<path d="M686,114.5C685.3,117.3 683.4,125.3 681.6,131.5C679.8,137.7 676.1,148.2 675,151.5" fill="none" stroke="rgb(143,143,143)" stroke-width="4.5" stroke-linecap="round" stroke-linejoin="round" filter="url(#Ba22)" style="mix-blend-mode:lighten"/>
<path d="M710,118C709.1,120.8 707,128.8 704.9,135C702.7,141.2 698.5,151.7 697.2,155" fill="none" stroke="rgb(133,133,133)" stroke-width="4.5" stroke-linecap="round" stroke-linejoin="round" filter="url(#Ba22)" style="mix-blend-mode:lighten"/>
<path d="M528.6,103.5L562.1,103.5L567.9,107.2L571.4,108.2L574.9,107.2L580.7,103.5L587.7,103.5L593.5,107.2L597,108.2L600.5,107.2L606.3,103.5L613.3,103.5L619.1,107.2L622.6,108.2L626.1,107.2L631.9,103.5L638.9,103.5L644.7,107.2L648.2,108.2L651.7,107.2L657.5,103.5L664.5,103.5L670.3,107.2L673.8,108.2L677.3,107.2L683.1,103.5L700,105L713,110.5L735,121L750,133L756.5,146L768.5,145L801.5,142L801.5,22.5L528.6,22.5Z" fill="rgb(0,0,0)" filter="url(#Ba21_1)"/>
<ellipse cx="558.6" cy="111.5" rx="6.5" ry="5" fill="rgb(168,168,168)" filter="url(#Ba22_2)" style="mix-blend-mode:lighten"/>
<ellipse cx="558.6" cy="110" rx="3.6" ry="2.8" fill="rgb(194,194,194)" filter="url(#Ba21_5)" style="mix-blend-mode:lighten"/>
<ellipse cx="584" cy="111.5" rx="6.5" ry="5" fill="rgb(168,168,168)" filter="url(#Ba22_2)" style="mix-blend-mode:lighten"/>
<ellipse cx="584" cy="110" rx="3.6" ry="2.8" fill="rgb(194,194,194)" filter="url(#Ba21_5)" style="mix-blend-mode:lighten"/>
<ellipse cx="609.6" cy="111.5" rx="6.5" ry="5" fill="rgb(168,168,168)" filter="url(#Ba22_2)" style="mix-blend-mode:lighten"/>
<ellipse cx="609.6" cy="110" rx="3.6" ry="2.8" fill="rgb(194,194,194)" filter="url(#Ba21_5)" style="mix-blend-mode:lighten"/>
<ellipse cx="635" cy="111" rx="6.5" ry="5" fill="rgb(168,168,168)" filter="url(#Ba22_2)" style="mix-blend-mode:lighten"/>
<ellipse cx="635" cy="109.5" rx="3.6" ry="2.8" fill="rgb(189,189,189)" filter="url(#Ba21_5)" style="mix-blend-mode:lighten"/>
<ellipse cx="660.6" cy="110.5" rx="6.5" ry="5" fill="rgb(168,168,168)" filter="url(#Ba22_2)" style="mix-blend-mode:lighten"/>
<ellipse cx="660.6" cy="109" rx="3.6" ry="2.8" fill="rgb(178,178,178)" filter="url(#Ba21_5)" style="mix-blend-mode:lighten"/>
<ellipse cx="686" cy="111" rx="6.5" ry="5" fill="rgb(168,168,168)" filter="url(#Ba22_2)" style="mix-blend-mode:lighten"/>
<ellipse cx="686" cy="109.5" rx="3.6" ry="2.8" fill="rgb(168,168,168)" filter="url(#Ba21_5)" style="mix-blend-mode:lighten"/>
<ellipse cx="710" cy="114.5" rx="6.5" ry="5" fill="rgb(158,158,158)" filter="url(#Ba22_2)" style="mix-blend-mode:lighten"/>
<ellipse cx="710" cy="113" rx="3.6" ry="2.8" fill="rgb(158,158,158)" filter="url(#Ba21_5)" style="mix-blend-mode:lighten"/></g><path d="M556.6,52.5 L556.6,103.5 L558.6,103.5 A6.4,8.1 0 0 0 565,95.4 A6.4,8.1 0 0 1 577.8,95.4 A6.4,8.1 0 0 0 590.6,95.4 A6.4,8.1 0 0 1 603.4,95.4 A6.4,8.1 0 0 0 616.2,95.4 A6.4,8.1 0 0 1 629,95.4 A6.4,8.1 0 0 0 641.8,95.4 A6.4,8.1 0 0 1 654.6,95.4 A6.4,8.1 0 0 0 667.4,95.4 A6.4,8.1 0 0 1 680.2,95.4 A6.4,8.1 0 0 0 693,95.4 A6.4,8.1 0 0 1 705.8,95.4 A6.4,8.1 0 0 0 718.6,95.4 A6.4,8.1 0 0 1 731.4,95.4 A6.4,8.1 0 0 0 744.2,95.4 A6.4,8.1 0 0 1 757,95.4 A6.4,8.1 0 0 0 769.8,95.4 A6.4,8.1 0 0 1 782.6,95.4 A6.4,8.1 0 0 0 795.4,95.4 A6.4,8.1 0 0 1 808.2,95.4 A6.4,8.1 0 0 0 821,95.4 A6.4,8.1 0 0 1 833.8,95.4 A6.4,8.1 0 0 0 846.6,95.4 A6.4,8.1 0 0 1 859.4,95.4 A6.4,8.1 0 0 0 872.2,95.4 A6.4,8.1 0 0 1 885,95.4 A6.4,8.1 0 0 0 897.8,95.4 A6.4,8.1 0 0 1 910.6,95.4 A6.4,8.1 0 0 0 923.4,95.4 A6.4,8.1 0 0 1 936.2,95.4 A6.4,8.1 0 0 0 949,95.4 A6.4,8.1 0 0 1 961.8,95.4 A6.4,8.1 0 0 0 974.6,95.4 L974.6,52.5 Z" fill="#fff" stroke="#fff" stroke-width="1"/></g>
<path d="M559.1,53 L955.9,53 L955.9,87.4" fill="none" stroke="#c4c4c4" stroke-width="1.2"/>
<!-- panel a3 -->
<g clip-path="url(#Ca3)"><g filter="url(#jeta3)" style="isolation:isolate"><rect x="997.5" y="50.5" width="409.9" height="195.5" fill="#000"/><rect x="922.5" y="150" width="205" height="131" fill="url(#Ga31)" filter="url(#Ba36)" style="mix-blend-mode:lighten"/>
<path d="M970,80C991.3,55.3 1103.3,75.1 1130,80C1156.7,84.9 1163.3,110.1 1170,117C1176.7,123.9 1178.5,128.9 1180,132C1181.5,135.1 1181.5,137.9 1181,140C1180.5,142.1 1178.3,146.1 1176,148C1173.7,149.9 1168.1,152.4 1164,154C1159.9,155.6 1150.1,158.1 1145,160C1139.9,161.9 1130.5,165.1 1126,168C1121.5,170.9 1114.5,177.7 1111,182C1107.5,186.3 1102.3,194.3 1100,200C1097.7,205.7 1094.9,216.3 1094,225C1093.1,233.7 1109.5,259.7 1093,265C1076.5,270.3 986.4,289.7 970,265C953.6,240.3 948.7,104.7 970,80Z" fill="rgb(51,51,51)" stroke="rgb(51,51,51)" stroke-width="24" stroke-linejoin="round" filter="url(#Ba36)" style="mix-blend-mode:lighten"/>
<path d="M970,80C991.3,55.3 1103.3,75.1 1130,80C1156.7,84.9 1163.3,110.1 1170,117C1176.7,123.9 1178.5,128.9 1180,132C1181.5,135.1 1181.5,137.9 1181,140C1180.5,142.1 1178.3,146.1 1176,148C1173.7,149.9 1168.1,152.4 1164,154C1159.9,155.6 1150.1,158.1 1145,160C1139.9,161.9 1130.5,165.1 1126,168C1121.5,170.9 1114.5,177.7 1111,182C1107.5,186.3 1102.3,194.3 1100,200C1097.7,205.7 1094.9,216.3 1094,225C1093.1,233.7 1109.5,259.7 1093,265C1076.5,270.3 986.4,289.7 970,265C953.6,240.3 948.7,104.7 970,80Z" fill="rgb(94,94,94)" filter="url(#Ba34)" style="mix-blend-mode:lighten"/>
<path d="M970,80C988.9,55.3 1088.5,74.9 1112,80C1135.5,85.1 1140.7,111.2 1146,118C1151.3,124.8 1152.1,127.8 1152,131C1151.9,134.2 1148.2,139.5 1145,142C1141.8,144.5 1132.7,147.9 1128,150C1123.3,152.1 1114.1,155.1 1110,158C1105.9,160.9 1100.2,166.8 1097,172C1093.8,177.2 1088.4,189.3 1086,197C1083.6,204.7 1080.3,220.9 1079,230C1077.7,239.1 1090.5,260.3 1076,265C1061.5,269.7 984.1,289.7 970,265C955.9,240.3 951.1,104.7 970,80Z" fill="rgb(128,128,128)" filter="url(#Ba35_5)" style="mix-blend-mode:lighten"/>
<path d="M970,80C987.9,72.3 1082.7,75.6 1104,80C1125.3,84.4 1125.3,107.3 1130,113C1134.7,118.7 1138.5,120.5 1139,123C1139.5,125.5 1136.8,129.7 1134,132C1131.2,134.3 1122.3,137.6 1118,140C1113.7,142.4 1106,147.1 1102,150C1098,152.9 1091.1,158.3 1088,162C1084.9,165.7 1081.3,172.5 1079,178C1076.7,183.5 1073,195.4 1071,203C1069,210.6 1065.2,226.7 1064,235C1062.8,243.3 1065.9,261 1062,265C1058.1,269 1038.9,273 1035,265C1031.1,257 1034.6,217.7 1033,205C1031.4,192.3 1026.9,178 1023,170C1019.1,162 1011.1,149.3 1004,145C996.9,140.7 974.5,146.7 970,138C965.5,129.3 952.1,87.7 970,80Z" fill="rgb(158,158,158)" filter="url(#Ba35)" style="mix-blend-mode:lighten"/>
<ellipse cx="1017" cy="143" rx="4.5" ry="13" fill="rgb(125,125,125)" filter="url(#Ba32_5)"/>
<ellipse cx="1042" cy="141" rx="4.5" ry="12" fill="rgb(128,128,128)" transform="rotate(5 1042 141)" filter="url(#Ba32_5)"/>
<ellipse cx="1067" cy="140" rx="4" ry="11" fill="rgb(130,130,130)" transform="rotate(9 1067 140)" filter="url(#Ba32_5)"/>
<ellipse cx="1092" cy="138" rx="3.5" ry="10" fill="rgb(130,130,130)" transform="rotate(13 1092 138)" filter="url(#Ba32_5)"/>
<ellipse cx="1115" cy="137" rx="3.5" ry="9" fill="rgb(125,125,125)" transform="rotate(18 1115 137)" filter="url(#Ba32_5)"/>
<ellipse cx="1137" cy="138" rx="3" ry="8" fill="rgb(117,117,117)" transform="rotate(24 1137 138)" filter="url(#Ba32_5)"/>
<path d="M1003.5,112C1003.4,114.8 1003,122.8 1002.7,129C1002.4,135.2 1001.7,145.7 1001.5,149" fill="none" stroke="rgb(168,168,168)" stroke-width="4.5" stroke-linecap="round" stroke-linejoin="round" filter="url(#Ba32)" style="mix-blend-mode:lighten"/>
<path d="M1028,112C1027.7,114.8 1027.1,122.8 1026.5,129C1025.8,135.2 1024.6,145.7 1024.2,149" fill="none" stroke="rgb(168,168,168)" stroke-width="4.5" stroke-linecap="round" stroke-linejoin="round" filter="url(#Ba32)" style="mix-blend-mode:lighten"/>
<path d="M1054,112C1053.6,114.8 1052.7,122.8 1051.8,129C1050.8,135.2 1049,145.7 1048.4,149" fill="none" stroke="rgb(168,168,168)" stroke-width="4.5" stroke-linecap="round" stroke-linejoin="round" filter="url(#Ba32)" style="mix-blend-mode:lighten"/>
<path d="M1080,112C1079.5,114.8 1078.3,122.8 1077,129C1075.8,135.2 1073.3,145.7 1072.6,149" fill="none" stroke="rgb(166,166,166)" stroke-width="4.5" stroke-linecap="round" stroke-linejoin="round" filter="url(#Ba32)" style="mix-blend-mode:lighten"/>
<path d="M1105,111.5C1104.4,114.3 1102.9,122.3 1101.3,128.5C1099.8,134.7 1096.7,145.2 1095.8,148.5" fill="none" stroke="rgb(148,148,148)" stroke-width="4.5" stroke-linecap="round" stroke-linejoin="round" filter="url(#Ba32)" style="mix-blend-mode:lighten"/>
<path d="M972.5,102.5L1007.2,102.5L1013,106.2L1016.5,107.2L1020,106.2L1025.8,102.5L1032.8,102.5L1038.6,106.2L1042.1,107.2L1045.6,106.2L1051.4,102.5L1058.4,102.5L1064.2,106.2L1067.7,107.2L1071.2,106.2L1077,102.5L1084,102.5L1089.8,106.2L1093.3,107.2L1096.8,106.2L1102.6,102.5L1108,104L1140,111L1160,118L1171,124L1183.5,137L1195.5,136L1228.5,133L1228.5,25.5L972.5,25.5Z" fill="rgb(0,0,0)" filter="url(#Ba31_1)"/>
<ellipse cx="1003.5" cy="108.5" rx="6.5" ry="5" fill="rgb(168,168,168)" filter="url(#Ba32_2)" style="mix-blend-mode:lighten"/>
<ellipse cx="1003.5" cy="107" rx="3.6" ry="2.8" fill="rgb(204,204,204)" filter="url(#Ba31_5)" style="mix-blend-mode:lighten"/>
<ellipse cx="1028" cy="108.5" rx="6.5" ry="5" fill="rgb(168,168,168)" filter="url(#Ba32_2)" style="mix-blend-mode:lighten"/>
<ellipse cx="1028" cy="107" rx="3.6" ry="2.8" fill="rgb(199,199,199)" filter="url(#Ba31_5)" style="mix-blend-mode:lighten"/>
<ellipse cx="1054" cy="108.5" rx="6.5" ry="5" fill="rgb(168,168,168)" filter="url(#Ba32_2)" style="mix-blend-mode:lighten"/>
<ellipse cx="1054" cy="107" rx="3.6" ry="2.8" fill="rgb(199,199,199)" filter="url(#Ba31_5)" style="mix-blend-mode:lighten"/>
<ellipse cx="1080" cy="108.5" rx="6.5" ry="5" fill="rgb(168,168,168)" filter="url(#Ba32_2)" style="mix-blend-mode:lighten"/>
<ellipse cx="1080" cy="107" rx="3.6" ry="2.8" fill="rgb(191,191,191)" filter="url(#Ba31_5)" style="mix-blend-mode:lighten"/>
<ellipse cx="1105" cy="108" rx="6.5" ry="5" fill="rgb(168,168,168)" filter="url(#Ba32_2)" style="mix-blend-mode:lighten"/>
<ellipse cx="1105" cy="106.5" rx="3.6" ry="2.8" fill="rgb(173,173,173)" filter="url(#Ba31_5)" style="mix-blend-mode:lighten"/></g><path d="M1001.7,55.5 L1001.7,102 L1003.7,102 A6.4,7.8 0 0 0 1010.1,94.2 A6.4,7.8 0 0 1 1022.9,94.2 A6.4,7.8 0 0 0 1035.7,94.2 A6.4,7.8 0 0 1 1048.5,94.2 A6.4,7.8 0 0 0 1061.3,94.2 A6.4,7.8 0 0 1 1074.1,94.2 A6.4,7.8 0 0 0 1086.9,94.2 A6.4,7.8 0 0 1 1099.7,94.2 A6.4,7.8 0 0 0 1112.5,94.2 A6.4,7.8 0 0 1 1125.3,94.2 A6.4,7.8 0 0 0 1138.1,94.2 A6.4,7.8 0 0 1 1150.9,94.2 A6.4,7.8 0 0 0 1163.7,94.2 A6.4,7.8 0 0 1 1176.5,94.2 A6.4,7.8 0 0 0 1189.3,94.2 A6.4,7.8 0 0 1 1202.1,94.2 A6.4,7.8 0 0 0 1214.9,94.2 A6.4,7.8 0 0 1 1227.7,94.2 A6.4,7.8 0 0 0 1240.5,94.2 A6.4,7.8 0 0 1 1253.3,94.2 A6.4,7.8 0 0 0 1266.1,94.2 A6.4,7.8 0 0 1 1278.9,94.2 A6.4,7.8 0 0 0 1291.7,94.2 A6.4,7.8 0 0 1 1304.5,94.2 A6.4,7.8 0 0 0 1317.3,94.2 A6.4,7.8 0 0 1 1330.1,94.2 A6.4,7.8 0 0 0 1342.9,94.2 A6.4,7.8 0 0 1 1355.7,94.2 A6.4,7.8 0 0 0 1368.5,94.2 A6.4,7.8 0 0 1 1381.3,94.2 A6.4,7.8 0 0 0 1394.1,94.2 A6.4,7.8 0 0 1 1406.9,94.2 A6.4,7.8 0 0 0 1419.7,94.2 L1419.7,55.5 Z" fill="#fff" stroke="#fff" stroke-width="1"/></g>
<path d="M1003,102 L1003,56 L1401.9,56 L1401.9,86.8" fill="none" stroke="#9c9c9c" stroke-width="1.6"/>
<!-- panel b1 -->
<g clip-path="url(#Cb1)"><g filter="url(#jetb1)" style="isolation:isolate"><rect x="107.5" y="277.4" width="409" height="198.1" fill="#000"/><rect x="32.5" y="355" width="206" height="155.5" fill="url(#Gb11)" filter="url(#Bb16)" style="mix-blend-mode:lighten"/>
<path d="M90,390L90,340L112,334L127,323L133.3,341L142,353L152.4,341.4L160,324L166.3,339L175,349L184.9,339L192,324L198.3,336.6L207,345L216.9,337.4L224,326L229.9,336.2L238,343L249,336.6L257,327L262,336.6L269,343L280,337L288,328L292.6,337.6L299,344L310.6,338.4L319,330L322.8,339.6L328,346L339.6,343.2L348,339L352,347L360,356L378,364L405,369L420,371L434,374L424,377L400,378L350,374L300,372L250,372L200,378L150,390Z" fill="rgb(94,94,94)" filter="url(#Bb11_9)" style="mix-blend-mode:lighten"/>
<path d="M100,360C111.7,352.8 176.7,358.2 200,358C223.3,357.8 283.7,357.6 300,358C316.3,358.4 331.2,359.9 340,361C348.8,362.1 367.4,365.8 375,367C382.6,368.2 399.3,370.2 405,371C410.7,371.8 421,373 424,373.5C427,374 431.5,374.7 431,375.5C430.5,376.3 424.8,379.1 420,380C415.2,380.9 400.5,383.1 390,383C379.5,382.9 342.2,379.8 330,379C317.8,378.2 293.1,375.9 285,376C276.9,376.1 266.2,377.9 261,380C255.8,382.1 244.8,389.9 240,394C235.2,398.1 224.7,409.6 220,415C215.3,420.4 203.2,434.5 200,440C196.8,445.5 193.9,456.2 193,462C192.1,467.8 202.8,486.7 192,490C181.2,493.3 110.7,498.2 100,490C89.3,481.8 100,435.2 100,420C100,404.8 88.3,367.2 100,360Z" fill="rgb(94,94,94)" filter="url(#Bb14_5)" style="mix-blend-mode:lighten"/>
<path d="M200,380C214,376.3 279,378.1 300,378C321,377.9 365.5,379.3 380,379C394.5,378.7 417.6,375.9 424,375.5C430.4,375.1 435,375 435,376C435,377 429,382.3 424,384C419,385.7 402.4,389.9 392,390.5C381.6,391.1 346.9,389.5 335,389C323.1,388.5 298.2,385.9 290,386C281.8,386.1 270.1,388.1 265,390C259.9,391.9 250.1,398.5 246,402C241.9,405.5 233.2,415 230,420C226.8,425 221,439.2 219,445C217,450.8 213.8,464.2 213,470C212.2,475.8 215.8,492.1 212,495C208.2,497.9 183.7,504.9 180,495C176.3,485.1 177.7,423.4 180,410C182.3,396.6 186,383.7 200,380Z" fill="rgb(54,54,54)" filter="url(#Bb16)" style="mix-blend-mode:lighten"/>
<path d="M260,372C271.7,372 308.3,371.5 330,372C351.7,372.5 374,374.5 390,375C406,375.5 420,375 426,375" fill="none" stroke="rgb(105,105,105)" stroke-width="5" stroke-linecap="round" stroke-linejoin="round" filter="url(#Bb13)" style="mix-blend-mode:lighten"/>
<path d="M156,480C156.2,471.7 155.8,443.3 157,430C158.2,416.7 158.8,408 163,400C167.2,392 173.3,387 182,382C190.7,377 201.7,373.3 215,370C228.3,366.7 248.5,364 262,362C275.5,360 290.3,358.7 296,358" fill="none" stroke="rgb(133,133,133)" stroke-width="30" stroke-linecap="round" stroke-linejoin="round" filter="url(#Bb17)" style="mix-blend-mode:lighten"/>
<path d="M156,480C156,470.8 155.2,439 156,425C156.8,411 158,403.8 161,396C164,388.2 171.8,381 174,378" fill="none" stroke="rgb(143,143,143)" stroke-width="14" stroke-linecap="round" stroke-linejoin="round" filter="url(#Bb15)" style="mix-blend-mode:lighten"/>
<path d="M123,329L121.8,339.8L120.6,350.6L119.4,361.4L118.2,372.2L117,383L137,383L135.8,372.2L134.6,361.4L133.4,350.6L132.2,339.8L131,329Z" fill="rgb(130,130,130)" filter="url(#Bb13_2)" style="mix-blend-mode:lighten"/>
<path d="M124.5,327L124,333.4L123.5,339.8L123,346.2L122.5,352.6L122,359L132,359L131.5,352.6L131,346.2L130.5,339.8L130,333.4L129.5,327Z" fill="rgb(150,150,150)" filter="url(#Bb11_9)" style="mix-blend-mode:lighten"/>
<path d="M155.2,329.3L152.3,340.6L149.2,351.7L145.9,362.7L142.3,373.7L138.6,384.6L158,389.1L159.5,377.5L160.8,365.7L161.8,354L162.6,342.2L163.1,330.5Z" fill="rgb(135,135,135)" filter="url(#Bb13_2)" style="mix-blend-mode:lighten"/>
<path d="M157,327.6L155.4,334.6L153.8,341.6L152.1,348.6L150.2,355.5L148.3,362.4L158.1,364.4L159.1,357.2L159.9,350L160.7,342.8L161.4,335.5L161.9,328.3Z" fill="rgb(156,156,156)" filter="url(#Bb11_9)" style="mix-blend-mode:lighten"/>
<path d="M186.6,328.7L182.2,339.8L177.4,350.7L172.3,361.3L166.8,371.8L160.9,382.1L179.2,390.2L183,378.6L186.5,366.7L189.5,354.8L192.1,342.8L194.3,330.9Z" fill="rgb(138,138,138)" filter="url(#Bb13_2)" style="mix-blend-mode:lighten"/>
<path d="M188.6,327.2L186,334.3L183.3,341.4L180.5,348.3L177.5,355.2L174.3,362.1L183.6,365.7L185.9,358.4L188,351L190,343.5L191.8,336L193.4,328.5Z" fill="rgb(158,158,158)" filter="url(#Bb11_9)" style="mix-blend-mode:lighten"/>
<path d="M218.1,330L212.2,340.4L205.9,350.3L199.1,359.8L191.9,368.8L184,377.7L200.2,389.4L206.4,378.8L212.1,367.7L217.2,356.3L221.7,344.8L225.4,333.2Z" fill="rgb(138,138,138)" filter="url(#Bb13_2)" style="mix-blend-mode:lighten"/>
<path d="M220.2,328.7L216.8,335.5L213.1,342L209.3,348.4L205.1,354.6L200.7,360.7L209.2,366L212.9,359.2L216.3,352.2L219.4,345.1L222.3,337.9L224.8,330.7Z" fill="rgb(158,158,158)" filter="url(#Bb11_9)" style="mix-blend-mode:lighten"/>
<path d="M250.7,330.3L244,339.6L236.7,348.2L229,356.3L220.7,363.7L211.8,370.8L225.8,385.1L233.5,375.9L240.7,366L247.1,355.7L252.8,345.1L257.6,334.3Z" fill="rgb(138,138,138)" filter="url(#Bb13_2)" style="mix-blend-mode:lighten"/>
<path d="M252.9,329.3L249,335.3L244.8,341L240.4,346.4L235.7,351.6L230.7,356.7L238.3,363.2L242.7,357.3L246.8,351.2L250.7,344.8L254.2,338.3L257.3,331.8Z" fill="rgb(158,158,158)" filter="url(#Bb11_9)" style="mix-blend-mode:lighten"/>
<path d="M281.5,330.9L274.6,339L267.2,346.5L259.5,353.4L251.3,359.7L242.5,365.5L255.5,380.8L263.2,372.7L270.4,363.9L277.1,354.7L283,345.1L288.1,335.3Z" fill="rgb(135,135,135)" filter="url(#Bb13_2)" style="mix-blend-mode:lighten"/>
<path d="M283.8,330L279.9,335L275.8,339.8L271.5,344.3L267,348.6L262.2,352.7L269.4,359.7L273.6,354.7L277.6,349.5L281.4,344L284.8,338.4L288,332.8Z" fill="rgb(156,156,156)" filter="url(#Bb11_9)" style="mix-blend-mode:lighten"/>
<path d="M312.4,332.5L305.5,339.6L298.3,346L290.7,351.8L282.7,357L274.2,361.7L286,377.9L293.6,370.8L300.9,363L307.6,354.8L313.6,346.2L318.7,337.3Z" fill="rgb(127,127,127)" filter="url(#Bb13_2)" style="mix-blend-mode:lighten"/>
<path d="M314.7,331.8L311,335.9L307.2,339.8L303.2,343.4L299,346.9L294.5,350.1L301.2,357.6L305.1,353.4L308.9,349L312.5,344.4L315.7,339.6L318.7,334.8Z" fill="rgb(148,148,148)" filter="url(#Bb11_9)" style="mix-blend-mode:lighten"/>
<path d="M341.2,340.9L334.8,346.2L328.2,350.7L321.3,354.7L314.2,358.1L306.6,361.1L316.6,378.4L323.6,373L330.4,366.9L336.6,360.4L342.2,353.5L347.1,346.3Z" fill="rgb(110,110,110)" filter="url(#Bb13_2)" style="mix-blend-mode:lighten"/>
<path d="M343.6,340.4L340.6,343L337.5,345.4L334.4,347.5L331.1,349.5L327.7,351.3L333.5,359.5L336.6,356.7L339.6,353.6L342.4,350.4L345,347.1L347.3,343.7Z" fill="rgb(130,130,130)" filter="url(#Bb11_9)" style="mix-blend-mode:lighten"/></g><path d="M110.5,282.4 L110.5,327.4 L112.5,327.4 A8,9.4 0 0 0 120.5,317.9 A8,9.4 0 0 1 136.4,317.9 A8,9.4 0 0 0 152.4,317.9 A8,9.4 0 0 1 168.4,317.9 A8,9.4 0 0 0 184.3,317.9 A8,9.4 0 0 1 200.3,317.9 A8,9.4 0 0 0 216.2,317.9 A8,9.4 0 0 1 232.2,317.9 A8,9.4 0 0 0 248.2,317.9 A8,9.4 0 0 1 264.1,317.9 A8,9.4 0 0 0 280.1,317.9 A8,9.4 0 0 1 296,317.9 A8,9.4 0 0 0 312,317.9 A8,9.4 0 0 1 328,317.9 A8,9.4 0 0 0 343.9,317.9 A8,9.4 0 0 1 359.9,317.9 A8,9.4 0 0 0 375.8,317.9 A8,9.4 0 0 1 391.8,317.9 A8,9.4 0 0 0 407.8,317.9 A8,9.4 0 0 1 423.7,317.9 A8,9.4 0 0 0 439.7,317.9 A8,9.4 0 0 1 455.6,317.9 A8,9.4 0 0 0 471.6,317.9 A8,9.4 0 0 1 487.6,317.9 A8,9.4 0 0 0 503.5,317.9 A8,9.4 0 0 1 519.5,317.9 A8,9.4 0 0 0 535.4,317.9 L535.4,282.4 Z" fill="#fff" stroke="#fff" stroke-width="1"/></g>
<path d="M113,282.9 L511,282.9 L511,308.5" fill="none" stroke="#b4b4b4" stroke-width="1.3"/>
<!-- panel b2 -->
<g clip-path="url(#Cb2)"><g filter="url(#jetb2)" style="isolation:isolate"><rect x="551.5" y="277.4" width="408.1" height="196" fill="#000"/><rect x="476.5" y="385" width="201" height="123.4" fill="url(#Gb21)" filter="url(#Bb26)" style="mix-blend-mode:lighten"/>
<path d="M530,310C552.7,285.3 671.5,305.1 700,310C728.5,314.9 736.8,340.6 744,347C751.2,353.4 752.5,355.5 754,358C755.5,360.5 755.5,363.9 755,366C754.5,368.1 752.5,371.9 750,374C747.5,376.1 740.9,380.1 736,382C731.1,383.9 719,386.1 713,388C707,389.9 696.3,393.1 691,396C685.7,398.9 677.5,405.2 673,410C668.5,414.8 660.5,425.3 657,432C653.5,438.7 648.6,451.6 647,460C645.4,468.4 660.6,490.3 645,495C629.4,499.7 545.3,519.7 530,495C514.7,470.3 507.3,334.7 530,310Z" fill="rgb(51,51,51)" stroke="rgb(51,51,51)" stroke-width="24" stroke-linejoin="round" filter="url(#Bb26)" style="mix-blend-mode:lighten"/>
<path d="M530,310C552.7,285.3 671.5,305.1 700,310C728.5,314.9 736.8,340.6 744,347C751.2,353.4 752.5,355.5 754,358C755.5,360.5 755.5,363.9 755,366C754.5,368.1 752.5,371.9 750,374C747.5,376.1 740.9,380.1 736,382C731.1,383.9 719,386.1 713,388C707,389.9 696.3,393.1 691,396C685.7,398.9 677.5,405.2 673,410C668.5,414.8 660.5,425.3 657,432C653.5,438.7 648.6,451.6 647,460C645.4,468.4 660.6,490.3 645,495C629.4,499.7 545.3,519.7 530,495C514.7,470.3 507.3,334.7 530,310Z" fill="rgb(94,94,94)" filter="url(#Bb24)" style="mix-blend-mode:lighten"/>
<path d="M530,310C551.3,285.3 664.9,305.1 690,310C715.1,314.9 713.7,340.3 718,347C722.3,353.7 722.8,356.8 722,360C721.2,363.2 715.7,368.6 712,371C708.3,373.4 698.9,376.1 694,378C689.1,379.9 679.8,382.5 675,385C670.2,387.5 662.1,392.3 658,397C653.9,401.7 646.9,412.9 644,420C641.1,427.1 637.9,440 636,450C634.1,460 644.1,489 630,495C615.9,501 543.3,519.7 530,495C516.7,470.3 508.7,334.7 530,310Z" fill="rgb(128,128,128)" filter="url(#Bb25_5)" style="mix-blend-mode:lighten"/>
<path d="M530,310C550,302.3 657.1,305.5 680,310C702.9,314.5 698.5,338 702,344C705.5,350 706.8,352.1 706,355C705.2,357.9 699.7,363.6 696,366C692.3,368.4 682.8,371 678,373C673.2,375 664.4,378.5 660,381C655.6,383.5 648.2,388.4 645,392C641.8,395.6 638.3,401.9 636,408C633.7,414.1 630.1,429.7 628,438C625.9,446.3 621.3,462.4 620,470C618.7,477.6 621.9,491.7 618,495C614.1,498.3 594.9,503 591,495C587.1,487 590.6,447.7 589,435C587.4,422.3 582.9,408 579,400C575.1,392 566.5,379.3 560,375C553.5,370.7 534,376.7 530,368C526,359.3 510,317.7 530,310Z" fill="rgb(153,153,153)" filter="url(#Bb25)" style="mix-blend-mode:lighten"/>
<ellipse cx="583" cy="368" rx="6.5" ry="14" fill="rgb(105,105,105)" filter="url(#Bb22_5)"/>
<ellipse cx="615" cy="364" rx="6.5" ry="14" fill="rgb(105,105,105)" transform="rotate(5 615 364)" filter="url(#Bb22_5)"/>
<ellipse cx="645" cy="362" rx="6" ry="13" fill="rgb(105,105,105)" transform="rotate(10 645 362)" filter="url(#Bb22_5)"/>
<ellipse cx="675" cy="360" rx="5.5" ry="12" fill="rgb(105,105,105)" transform="rotate(15 675 360)" filter="url(#Bb22_5)"/>
<ellipse cx="703" cy="359" rx="5" ry="10" fill="rgb(102,102,102)" transform="rotate(22 703 359)" filter="url(#Bb22_5)"/>
<ellipse cx="726" cy="362" rx="4" ry="8" fill="rgb(97,97,97)" transform="rotate(30 726 362)" filter="url(#Bb22_5)"/>
<ellipse cx="557" cy="366" rx="5" ry="12" fill="rgb(105,105,105)" filter="url(#Bb22_5)"/>
<path d="M558,342.5C557.9,345.3 557.5,353.3 557.2,359.5C556.9,365.7 556.2,376.2 556,379.5" fill="none" stroke="rgb(168,168,168)" stroke-width="4.5" stroke-linecap="round" stroke-linejoin="round" filter="url(#Bb22)" style="mix-blend-mode:lighten"/>
<path d="M589,342.5C588.7,345.3 588.1,353.3 587.5,359.5C586.8,365.7 585.6,376.2 585.2,379.5" fill="none" stroke="rgb(168,168,168)" stroke-width="4.5" stroke-linecap="round" stroke-linejoin="round" filter="url(#Bb22)" style="mix-blend-mode:lighten"/>
<path d="M620.6,342.5C620.2,345.3 619.3,353.3 618.4,359.5C617.4,365.7 615.6,376.2 615,379.5" fill="none" stroke="rgb(168,168,168)" stroke-width="4.5" stroke-linecap="round" stroke-linejoin="round" filter="url(#Bb22)" style="mix-blend-mode:lighten"/>
<path d="M651,342C650.5,344.8 649.3,352.8 648,359C646.8,365.2 644.3,375.7 643.6,379" fill="none" stroke="rgb(158,158,158)" stroke-width="4.5" stroke-linecap="round" stroke-linejoin="round" filter="url(#Bb22)" style="mix-blend-mode:lighten"/>
<path d="M681,342C680.4,344.8 678.9,352.8 677.3,359C675.8,365.2 672.7,375.7 671.8,379" fill="none" stroke="rgb(148,148,148)" stroke-width="4.5" stroke-linecap="round" stroke-linejoin="round" filter="url(#Bb22)" style="mix-blend-mode:lighten"/>
<path d="M526.5,332.5L560.9,332.5L568,336.2L572.4,337.2L576.8,336.2L584,332.5L592.7,332.5L599.9,336.2L604.3,337.2L608.7,336.2L615.8,332.5L624.6,332.5L631.7,336.2L636.1,337.2L640.5,336.2L647.7,332.5L656.4,332.5L663.6,336.2L668,337.2L672.3,336.2L679.5,332.5L690,334L715,338L735,348L748,356L758.5,361L770.5,360L803.5,357L803.5,252.4L526.5,252.4Z" fill="rgb(0,0,0)" filter="url(#Bb21_1)"/>
<ellipse cx="558" cy="339" rx="6.5" ry="5" fill="rgb(168,168,168)" filter="url(#Bb22_2)" style="mix-blend-mode:lighten"/>
<ellipse cx="558" cy="337.5" rx="3.6" ry="2.8" fill="rgb(204,204,204)" filter="url(#Bb21_5)" style="mix-blend-mode:lighten"/>
<ellipse cx="589" cy="339" rx="6.5" ry="5" fill="rgb(168,168,168)" filter="url(#Bb22_2)" style="mix-blend-mode:lighten"/>
<ellipse cx="589" cy="337.5" rx="3.6" ry="2.8" fill="rgb(194,194,194)" filter="url(#Bb21_5)" style="mix-blend-mode:lighten"/>
<ellipse cx="620.6" cy="339" rx="6.5" ry="5" fill="rgb(168,168,168)" filter="url(#Bb22_2)" style="mix-blend-mode:lighten"/>
<ellipse cx="620.6" cy="337.5" rx="3.6" ry="2.8" fill="rgb(194,194,194)" filter="url(#Bb21_5)" style="mix-blend-mode:lighten"/>
<ellipse cx="651" cy="338.5" rx="6.5" ry="5" fill="rgb(168,168,168)" filter="url(#Bb22_2)" style="mix-blend-mode:lighten"/>
<ellipse cx="651" cy="337" rx="3.6" ry="2.8" fill="rgb(184,184,184)" filter="url(#Bb21_5)" style="mix-blend-mode:lighten"/>
<ellipse cx="681" cy="338.5" rx="6.5" ry="5" fill="rgb(168,168,168)" filter="url(#Bb22_2)" style="mix-blend-mode:lighten"/>
<ellipse cx="681" cy="337" rx="3.6" ry="2.8" fill="rgb(173,173,173)" filter="url(#Bb21_5)" style="mix-blend-mode:lighten"/></g><path d="M554.5,282.4 L554.5,332.5 L556.5,332.5 A8,9.9 0 0 0 564.5,322.6 A8,9.9 0 0 1 580.4,322.6 A8,9.9 0 0 0 596.3,322.6 A8,9.9 0 0 1 612.2,322.6 A8,9.9 0 0 0 628.2,322.6 A8,9.9 0 0 1 644.1,322.6 A8,9.9 0 0 0 660,322.6 A8,9.9 0 0 1 675.9,322.6 A8,9.9 0 0 0 691.9,322.6 A8,9.9 0 0 1 707.8,322.6 A8,9.9 0 0 0 723.7,322.6 A8,9.9 0 0 1 739.6,322.6 A8,9.9 0 0 0 755.5,322.6 A8,9.9 0 0 1 771.5,322.6 A8,9.9 0 0 0 787.4,322.6 A8,9.9 0 0 1 803.3,322.6 A8,9.9 0 0 0 819.2,322.6 A8,9.9 0 0 1 835.2,322.6 A8,9.9 0 0 0 851.1,322.6 A8,9.9 0 0 1 867,322.6 A8,9.9 0 0 0 882.9,322.6 A8,9.9 0 0 1 898.9,322.6 A8,9.9 0 0 0 914.8,322.6 A8,9.9 0 0 1 930.7,322.6 A8,9.9 0 0 0 946.6,322.6 A8,9.9 0 0 1 962.6,322.6 A8,9.9 0 0 0 978.5,322.6 L978.5,282.4 Z" fill="#fff" stroke="#fff" stroke-width="1"/></g>
<path d="M557,332.5 L557,282.9 L954.1,282.9 L954.1,312.7" fill="none" stroke="#888888" stroke-width="1.4"/>
<!-- panel b3 -->
<g clip-path="url(#Cb3)"><g filter="url(#jetb3)" style="isolation:isolate"><rect x="998.4" y="279.5" width="407.6" height="197.5" fill="#000"/><rect x="923.4" y="385" width="204" height="127" fill="url(#Gb31)" filter="url(#Bb36)" style="mix-blend-mode:lighten"/>
<path d="M970,300C991.3,274 1103.3,295.3 1130,300C1156.7,304.7 1163.3,328.1 1170,335C1176.7,341.9 1179.5,348.1 1180,352C1180.5,355.9 1176.4,361.2 1174,364C1171.6,366.8 1165.9,370.9 1162,373C1158.1,375.1 1149.5,378 1145,380C1140.5,382 1132.4,385.1 1128,388C1123.6,390.9 1115.7,397.1 1112,402C1108.3,406.9 1102.3,417.9 1100,425C1097.7,432.1 1095.8,445.7 1095,455C1094.2,464.3 1110.7,489.7 1094,495C1077.3,500.3 986.5,521 970,495C953.5,469 948.7,326 970,300Z" fill="rgb(51,51,51)" stroke="rgb(51,51,51)" stroke-width="24" stroke-linejoin="round" filter="url(#Bb36)" style="mix-blend-mode:lighten"/>
<path d="M970,300C991.3,274 1103.3,295.3 1130,300C1156.7,304.7 1163.3,328.1 1170,335C1176.7,341.9 1179.5,348.1 1180,352C1180.5,355.9 1176.4,361.2 1174,364C1171.6,366.8 1165.9,370.9 1162,373C1158.1,375.1 1149.5,378 1145,380C1140.5,382 1132.4,385.1 1128,388C1123.6,390.9 1115.7,397.1 1112,402C1108.3,406.9 1102.3,417.9 1100,425C1097.7,432.1 1095.8,445.7 1095,455C1094.2,464.3 1110.7,489.7 1094,495C1077.3,500.3 986.5,521 970,495C953.5,469 948.7,326 970,300Z" fill="rgb(94,94,94)" filter="url(#Bb34)" style="mix-blend-mode:lighten"/>
<path d="M970,300C988.9,274 1089.1,294.4 1112,300C1134.9,305.6 1137.5,334.7 1142,342C1146.5,349.3 1147.1,351.9 1146,355C1144.9,358.1 1138.3,362.2 1134,365C1129.7,367.8 1118.7,372.5 1114,376C1109.3,379.5 1102.6,385.3 1099,391C1095.4,396.7 1089.5,410.5 1087,419C1084.5,427.5 1081.3,444.9 1080,455C1078.7,465.1 1091.7,489.7 1077,495C1062.3,500.3 984.3,521 970,495C955.7,469 951.1,326 970,300Z" fill="rgb(128,128,128)" filter="url(#Bb35_5)" style="mix-blend-mode:lighten"/>
<path d="M970,300C988.4,291.2 1086.9,294.4 1108,300C1129.1,305.6 1124.8,335.2 1128,342C1131.2,348.8 1132.4,348.6 1132,351C1131.6,353.4 1127.7,357.7 1125,360C1122.3,362.3 1115.7,365.5 1112,368C1108.3,370.5 1100.5,375.4 1097,379C1093.5,382.6 1088.7,389.1 1086,395C1083.3,400.9 1079.5,414.3 1077,423C1074.5,431.7 1068.7,450.4 1067,460C1065.3,469.6 1068.1,490.3 1064,495C1059.9,499.7 1040,503 1036,495C1032,487 1035.6,447.9 1034,435C1032.4,422.1 1027.9,406.3 1024,398C1020.1,389.7 1012.2,377.3 1005,373C997.8,368.7 974.7,375.7 970,366C965.3,356.3 951.6,308.8 970,300Z" fill="rgb(158,158,158)" filter="url(#Bb35)" style="mix-blend-mode:lighten"/>
<ellipse cx="1030" cy="360" rx="6.5" ry="14" fill="rgb(117,117,117)" filter="url(#Bb32_5)"/>
<ellipse cx="1062" cy="356" rx="6.5" ry="14" fill="rgb(117,117,117)" transform="rotate(5 1062 356)" filter="url(#Bb32_5)"/>
<ellipse cx="1094" cy="354" rx="6" ry="12" fill="rgb(117,117,117)" transform="rotate(10 1094 354)" filter="url(#Bb32_5)"/>
<ellipse cx="1124" cy="353" rx="5" ry="10" fill="rgb(112,112,112)" transform="rotate(18 1124 353)" filter="url(#Bb32_5)"/>
<ellipse cx="1004" cy="362" rx="4" ry="12" fill="rgb(117,117,117)" filter="url(#Bb32_5)"/>
<path d="M1005.5,336C1005.4,338.8 1005,346.8 1004.7,353C1004.4,359.2 1003.7,369.7 1003.5,373" fill="none" stroke="rgb(168,168,168)" stroke-width="4.5" stroke-linecap="round" stroke-linejoin="round" filter="url(#Bb32)" style="mix-blend-mode:lighten"/>
<path d="M1036,336.5C1035.7,339.3 1035.1,347.3 1034.5,353.5C1033.8,359.7 1032.6,370.2 1032.2,373.5" fill="none" stroke="rgb(168,168,168)" stroke-width="4.5" stroke-linecap="round" stroke-linejoin="round" filter="url(#Bb32)" style="mix-blend-mode:lighten"/>
<path d="M1067,336C1066.6,338.8 1065.7,346.8 1064.8,353C1063.8,359.2 1062,369.7 1061.4,373" fill="none" stroke="rgb(168,168,168)" stroke-width="4.5" stroke-linecap="round" stroke-linejoin="round" filter="url(#Bb32)" style="mix-blend-mode:lighten"/>
<path d="M1098,335.5C1097.5,338.3 1096.3,346.3 1095,352.5C1093.8,358.7 1091.3,369.2 1090.6,372.5" fill="none" stroke="rgb(153,153,153)" stroke-width="4.5" stroke-linecap="round" stroke-linejoin="round" filter="url(#Bb32)" style="mix-blend-mode:lighten"/>
<path d="M973.4,326.5L1007.8,326.5L1014.9,330.2L1019.3,331.2L1023.7,330.2L1030.8,326.5L1039.6,326.5L1046.7,330.2L1051.1,331.2L1055.5,330.2L1062.6,326.5L1071.4,326.5L1078.5,330.2L1082.9,331.2L1087.3,330.2L1094.5,326.5L1115,328L1140,336L1153,344L1161,351.5L1167,347L1173,344L1179.5,351L1191.5,350L1224.5,347L1224.5,254.5L973.4,254.5Z" fill="rgb(0,0,0)" filter="url(#Bb31_1)"/>
<ellipse cx="1005.5" cy="332.5" rx="6.5" ry="5" fill="rgb(168,168,168)" filter="url(#Bb32_2)" style="mix-blend-mode:lighten"/>
<ellipse cx="1005.5" cy="331" rx="3.6" ry="2.8" fill="rgb(209,209,209)" filter="url(#Bb31_5)" style="mix-blend-mode:lighten"/>
<ellipse cx="1036" cy="333" rx="6.5" ry="5" fill="rgb(168,168,168)" filter="url(#Bb32_2)" style="mix-blend-mode:lighten"/>
<ellipse cx="1036" cy="331.5" rx="3.6" ry="2.8" fill="rgb(204,204,204)" filter="url(#Bb31_5)" style="mix-blend-mode:lighten"/>
<ellipse cx="1067" cy="332.5" rx="6.5" ry="5" fill="rgb(168,168,168)" filter="url(#Bb32_2)" style="mix-blend-mode:lighten"/>
<ellipse cx="1067" cy="331" rx="3.6" ry="2.8" fill="rgb(199,199,199)" filter="url(#Bb31_5)" style="mix-blend-mode:lighten"/>
<ellipse cx="1098" cy="332" rx="6.5" ry="5" fill="rgb(168,168,168)" filter="url(#Bb32_2)" style="mix-blend-mode:lighten"/>
<ellipse cx="1098" cy="330.5" rx="3.6" ry="2.8" fill="rgb(178,178,178)" filter="url(#Bb31_5)" style="mix-blend-mode:lighten"/></g><path d="M1001.4,284.5 L1001.4,326.5 L1003.4,326.5 A8,9.1 0 0 0 1011.4,317.4 A8,9.1 0 0 1 1027.3,317.4 A8,9.1 0 0 0 1043.2,317.4 A8,9.1 0 0 1 1059.1,317.4 A8,9.1 0 0 0 1075,317.4 A8,9.1 0 0 1 1090.9,317.4 A8,9.1 0 0 0 1106.8,317.4 A8,9.1 0 0 1 1122.7,317.4 A8,9.1 0 0 0 1138.6,317.4 A8,9.1 0 0 1 1154.5,317.4 A8,9.1 0 0 0 1170.4,317.4 A8,9.1 0 0 1 1186.3,317.4 A8,9.1 0 0 0 1202.2,317.4 A8,9.1 0 0 1 1218.1,317.4 A8,9.1 0 0 0 1234,317.4 A8,9.1 0 0 1 1249.9,317.4 A8,9.1 0 0 0 1265.8,317.4 A8,9.1 0 0 1 1281.7,317.4 A8,9.1 0 0 0 1297.6,317.4 A8,9.1 0 0 1 1313.5,317.4 A8,9.1 0 0 0 1329.4,317.4 A8,9.1 0 0 1 1345.3,317.4 A8,9.1 0 0 0 1361.2,317.4 A8,9.1 0 0 1 1377.1,317.4 A8,9.1 0 0 0 1393,317.4 A8,9.1 0 0 1 1409,317.4 A8,9.1 0 0 0 1424.9,317.4 L1424.9,284.5 Z" fill="#fff" stroke="#fff" stroke-width="1"/></g>
<path d="M1003.9,326.5 L1003.9,285 L1400.5,285 L1400.5,308.3" fill="none" stroke="#c0c0c0" stroke-width="1.3"/>
<!-- panel c1 -->
<g clip-path="url(#Cc1)"><g filter="url(#jetc1)" style="isolation:isolate"><rect x="107.5" y="520.4" width="409" height="197.2" fill="#000"/><rect x="32.5" y="596" width="206" height="156.6" fill="url(#Gc11)" filter="url(#Bc18)" style="mix-blend-mode:lighten"/>
<path d="M100,640C93.3,635.5 98.3,610.9 100,606C101.7,601.1 110.2,605.4 113,603C115.8,600.6 119.3,592.4 121,588C122.7,583.6 125,574.7 126,570C127,565.3 127.3,556.1 128.5,553C129.7,549.9 133.3,546.5 135,546.5C136.7,546.5 140.3,549.6 141.5,553C142.7,556.4 143.3,566.3 144,572C144.7,577.7 145.8,590.3 147,596C148.2,601.7 150.9,614.2 153,615C155.1,615.8 160.5,606.7 163,602C165.5,597.3 169.9,586.1 172,580C174.1,573.9 176.5,560.5 178.5,556C180.5,551.5 185,546.9 187,546.5C189,546.1 192.3,549.9 193.5,553C194.7,556.1 195.4,565.6 196,570C196.6,574.4 197.1,582.4 198,586C198.9,589.6 200.9,596.7 203,597C205.1,597.3 211.1,591.2 214,588C216.9,584.8 222.7,577.4 225,573C227.3,568.6 229.6,558.5 231.5,555C233.4,551.5 237.1,547.1 239,547C240.9,546.9 244.4,550.7 245.5,554C246.6,557.3 247.2,567.5 247.5,572C247.8,576.5 247.4,584.8 248,588C248.6,591.2 249.9,595.6 252,596C254.1,596.4 260.8,593.3 264,591C267.2,588.7 273.3,582.9 276,579C278.7,575.1 282.1,565 284,562C285.9,559 288.4,556.4 290,556.5C291.6,556.6 295.1,559.9 296,563C296.9,566.1 296.9,575.5 297,580C297.1,584.5 295.3,595 297,597C298.7,599 306.7,596.3 310,595C313.3,593.7 319.2,589.5 322,587C324.8,584.5 329,578.1 331,576C333,573.9 335.7,571.2 337,571.5C338.3,571.8 340.6,574.5 341,578C341.4,581.5 338.1,594.9 340,598C341.9,601.1 351.3,600.2 355,601C358.7,601.8 365.2,602.8 368,604C370.8,605.2 373.1,608.4 376,610C378.9,611.6 386.9,614.7 390,616C393.1,617.3 399.7,618.8 399,619.5C398.3,620.2 391.5,621.3 385,621C378.5,620.7 361.3,617.9 350,617C338.7,616.1 313.3,614.1 300,614C286.7,613.9 263.3,614.5 250,616C236.7,617.5 213.3,621.8 200,625C186.7,628.2 163.3,638 150,640C136.7,642 106.7,644.5 100,640Z" fill="rgb(94,94,94)" filter="url(#Bc12_2)" style="mix-blend-mode:lighten"/>
<path d="M100,612C107,605.9 143.7,608.9 160,608C176.3,607.1 223.7,604.4 240,604C256.3,603.6 287.2,604.4 300,605C312.8,605.6 340.1,607.7 350,609C359.9,610.3 379.6,614.8 385,616C390.4,617.2 396.6,618.7 396,619.5C395.4,620.3 385.4,622.6 380,623C374.6,623.4 359.3,623.4 350,623C340.7,622.6 309.6,619.8 300,620C290.4,620.2 274.1,623 268,625C261.9,627 252.7,633.3 248,637C243.3,640.7 233,651.8 228,657C223,662.2 209,676.4 205,682C201,687.6 195.5,699.4 194,705C192.5,710.6 203,727.1 192,730C181,732.9 110.7,738.2 100,730C89.3,721.8 100,673.8 100,660C100,646.2 93,618.1 100,612Z" fill="rgb(94,94,94)" filter="url(#Bc14_5)" style="mix-blend-mode:lighten"/>
<path d="M200,620C214,616 281.3,616.2 300,616C318.7,615.8 348.6,617.5 360,618C371.4,618.5 395.1,619 398,620C400.9,621 390.6,625.8 385,627C379.4,628.2 359.9,630 350,630C340.1,630 309.1,626.8 300,627C290.9,627.2 277.6,629.9 272,632C266.4,634.1 256.3,641.1 252,645C247.7,648.9 238.5,659.8 235,665C231.5,670.2 224.4,684.2 222,690C219.6,695.8 215.2,709.8 214,715C212.8,720.2 216,732.7 212,735C208,737.3 183.7,744.9 180,735C176.3,725.1 177.7,663.4 180,650C182.3,636.6 186,624 200,620Z" fill="rgb(54,54,54)" filter="url(#Bc16)" style="mix-blend-mode:lighten"/>
<path d="M156,725C156.2,715.8 155.7,684.2 157,670C158.3,655.8 159.3,648 164,640C168.7,632 175.7,626.8 185,622C194.3,617.2 207.2,613.7 220,611C232.8,608.3 255,606.8 262,606" fill="none" stroke="rgb(133,133,133)" stroke-width="30" stroke-linecap="round" stroke-linejoin="round" filter="url(#Bc17)" style="mix-blend-mode:lighten"/>
<path d="M156,725C156,715 155.2,679.8 156,665C156.8,650.2 158,643.8 161,636C164,628.2 171.8,621 174,618" fill="none" stroke="rgb(145,145,145)" stroke-width="16" stroke-linecap="round" stroke-linejoin="round" filter="url(#Bc15)" style="mix-blend-mode:lighten"/>
<path d="M142.5,553L145.5,572L148.5,596L153.5,611L161.5,600L170.5,580L177,556Z" fill="rgb(0,0,0)" filter="url(#Bc11_8)"/>
<path d="M194.5,553L197.5,570L199.5,585L203.5,593L213,586L223.5,572L230,555Z" fill="rgb(0,0,0)" filter="url(#Bc11_8)"/>
<path d="M100,560L127,553L124.5,570L119.5,587L112,602L100,606Z" fill="rgb(0,0,0)" filter="url(#Bc11_8)"/>
<path d="M100,580L118,590L116,612L110,634L100,648Z" fill="rgb(43,43,43)" filter="url(#Bc14)"/>
<path d="M130.5,551.9L128.8,568L126.7,584L124.2,599.9L121.3,615.6L118,631.4L141.8,634.1L142.2,617.7L142.1,601.2L141.7,584.8L140.8,568.3L139.5,552.1Z" fill="rgb(140,140,140)" filter="url(#Bc14)" style="mix-blend-mode:lighten"/>
<path d="M131.5,551L130.7,564.5L129.5,578L128.1,591.4L126.4,604.8L124.5,618.2L138.4,619.5L139,605.9L139.3,592.1L139.3,578.4L139.1,564.7L138.5,551Z" fill="rgb(153,153,153)" filter="url(#Bc12_8)" style="mix-blend-mode:lighten"/>
<path d="M132.8,552L132.6,559.8L132.3,567.5L131.9,575.3L131.4,583L130.8,590.8L136.8,591.1L137.1,583.3L137.3,575.5L137.4,567.7L137.4,559.8L137.2,552Z" fill="rgb(168,168,168)" filter="url(#Bc11_8)" style="mix-blend-mode:lighten"/>
<path d="M182.3,551.5L178.9,567.2L174.7,582.5L169.6,597.4L163.6,612L156.8,626.4L179.3,634.6L183.6,618.6L187,602.1L189.4,585.6L190.8,569L191.2,552.5Z" fill="rgb(140,140,140)" filter="url(#Bc14)" style="mix-blend-mode:lighten"/>
<path d="M183.3,550.6L181.1,563.9L178.3,577L174.9,589.9L170.8,602.6L166,615.2L179.4,619.5L182.9,606.1L185.8,592.5L188,578.8L189.5,565.1L190.3,551.4Z" fill="rgb(153,153,153)" filter="url(#Bc12_8)" style="mix-blend-mode:lighten"/>
<path d="M184.5,551.8L183.6,559.5L182.4,567.1L181,574.7L179.4,582.3L177.6,589.8L183.4,591.1L185,583.4L186.3,575.7L187.4,567.9L188.3,560L189,552.2Z" fill="rgb(168,168,168)" filter="url(#Bc11_8)" style="mix-blend-mode:lighten"/>
<path d="M234.1,551.5L229.3,565.8L223.1,579.3L215.8,592L207.2,603.7L197.3,614.8L216.7,628.9L224.8,615.1L231.8,600.2L237.1,584.8L240.8,569.1L242.9,553.5Z" fill="rgb(138,138,138)" filter="url(#Bc14)" style="mix-blend-mode:lighten"/>
<path d="M235.2,550.7L231.8,562.9L227.5,574.6L222.2,585.8L216.1,596.4L208.9,606.7L220.8,614.1L227.1,602.6L232.4,590.4L236.7,577.8L240,565L242.1,552.2Z" fill="rgb(150,150,150)" filter="url(#Bc12_8)" style="mix-blend-mode:lighten"/>
<path d="M236.3,552L234.7,559.1L232.8,566L230.5,572.9L227.9,579.5L224.9,586.2L230.4,588.5L233.2,581.6L235.6,574.6L237.7,567.4L239.4,560.2L240.7,552.9Z" fill="rgb(166,166,166)" filter="url(#Bc11_8)" style="mix-blend-mode:lighten"/>
<path d="M284.9,560L278.2,571.2L270.3,580.9L261.3,589.3L251.3,596.1L239.8,601.8L253,621.8L264,612.8L274.1,601.9L282.4,589.8L288.8,576.9L293.1,563.7Z" fill="rgb(128,128,128)" filter="url(#Bc14)" style="mix-blend-mode:lighten"/>
<path d="M286.1,559.5L281.3,568.9L275.5,577.4L268.8,585.1L261.3,591.9L252.8,598L261.7,608.8L269.9,601.2L277.4,592.4L283.7,582.8L288.8,572.7L292.5,562.3Z" fill="rgb(140,140,140)" filter="url(#Bc12_8)" style="mix-blend-mode:lighten"/>
<path d="M286.9,561L284.5,566.5L281.7,571.8L278.6,576.8L275.2,581.6L271.3,586.3L276,590L279.8,585L283.2,579.7L286.2,574.2L288.9,568.5L291.1,562.7Z" fill="rgb(156,156,156)" filter="url(#Bc11_8)" style="mix-blend-mode:lighten"/>
<path d="M331.8,573.7L324.1,581.3L315.9,587.4L307.1,592.4L297.9,596.1L287.9,598.8L297.5,620.8L307.5,614.8L317.3,607.2L325.8,598.6L333.1,589.2L338.9,579.2Z" fill="rgb(107,107,107)" filter="url(#Bc14)" style="mix-blend-mode:lighten"/>
<path d="M333.1,573.6L327.6,579.7L321.7,585L315.3,589.6L308.5,593.5L301.1,596.8L307.9,609L315.2,604.2L322.2,598.4L328.5,592L334,585.1L338.7,577.8Z" fill="rgb(120,120,120)" filter="url(#Bc12_8)" style="mix-blend-mode:lighten"/>
<path d="M333.5,575.2L330.7,578.8L327.7,582.2L324.5,585.4L321.1,588.4L317.5,591.2L321.3,595.8L324.9,592.7L328.3,589.2L331.5,585.6L334.5,581.7L337.1,577.8Z" fill="rgb(135,135,135)" filter="url(#Bc11_8)" style="mix-blend-mode:lighten"/></g><path d="M110.5,525.4 L110.5,571 L112.5,571 A12.8,14.4 0 0 0 125.3,556.6 A12.8,14.4 0 0 1 150.8,556.6 A12.8,14.4 0 0 0 176.3,556.6 A12.8,14.4 0 0 1 201.9,556.6 A12.8,14.4 0 0 0 227.4,556.6 A12.8,14.4 0 0 1 252.9,556.6 A12.8,14.4 0 0 0 278.5,556.6 A12.8,14.4 0 0 1 304,556.6 A12.8,14.4 0 0 0 329.6,556.6 A12.8,14.4 0 0 1 355.1,556.6 A12.8,14.4 0 0 0 380.6,556.6 A12.8,14.4 0 0 1 406.2,556.6 A12.8,14.4 0 0 0 431.7,556.6 A12.8,14.4 0 0 1 457.2,556.6 A12.8,14.4 0 0 0 482.8,556.6 A12.8,14.4 0 0 1 508.3,556.6 A12.8,14.4 0 0 0 533.8,556.6 A12.8,14.4 0 0 1 559.4,556.6 L559.4,525.4 Z" fill="#fff" stroke="#fff" stroke-width="1"/></g>
<path d="M113,525.9 L511,525.9 L511,566.1" fill="none" stroke="#bcbcbc" stroke-width="1.2"/>
<!-- panel c2 -->
<g clip-path="url(#Cc2)"><g filter="url(#jetc2)" style="isolation:isolate"><rect x="554.5" y="516.5" width="406" height="198.5" fill="#000"/><rect x="479.5" y="620" width="202" height="130" fill="url(#Gc21)" filter="url(#Bc27)" style="mix-blend-mode:lighten"/>
<path d="M530,530C552.7,502.7 675.2,525.2 700,530C724.8,534.8 713.1,559.9 716,566C718.9,572.1 720.3,575.1 722,576C723.7,576.9 727.2,573.9 729,573C730.8,572.1 733.9,569.4 735.5,569.5C737.1,569.6 739.6,571.9 741,574C742.4,576.1 745.1,582.2 746,585C746.9,587.8 747.8,592.6 747.5,595C747.2,597.4 746.1,601.1 744,603C741.9,604.9 735.7,607.3 732,609C728.3,610.7 719.9,614.1 716,616C712.1,617.9 706.6,620.5 703,623C699.4,625.5 692.9,631.1 689,635C685.1,638.9 677.9,646.7 674,652C670.1,657.3 663.2,668.6 660,675C656.8,681.4 652,692 650,700C648,708 661,730.3 645,735C629,739.7 545.3,762.3 530,735C514.7,707.7 507.3,557.3 530,530Z" fill="rgb(94,94,94)" filter="url(#Bc22_6)" style="mix-blend-mode:lighten"/>
<path d="M530,560C551.3,536.7 664,556 690,560C716,564 718.6,584.7 725,590C731.4,595.3 738.4,597.2 738,600C737.6,602.8 726.3,608.5 722,611C717.7,613.5 710,616.5 706,619C702,621.5 695.9,626.3 692,630C688.1,633.7 681,641.4 677,647C673,652.6 665.5,664.9 662,672C658.5,679.1 653.1,691.6 651,700C648.9,708.4 662.1,730.3 646,735C629.9,739.7 545.5,758.3 530,735C514.5,711.7 508.7,583.3 530,560Z" fill="rgb(48,48,48)" stroke="rgb(48,48,48)" stroke-width="17" stroke-linejoin="round" filter="url(#Bc25_5)" style="mix-blend-mode:lighten"/>
<path d="M530,560C551.3,536.7 664,556 690,560C716,564 718.6,584.7 725,590C731.4,595.3 738.4,597.2 738,600C737.6,602.8 726.3,608.5 722,611C717.7,613.5 710,616.5 706,619C702,621.5 695.9,626.3 692,630C688.1,633.7 681,641.4 677,647C673,652.6 665.5,664.9 662,672C658.5,679.1 653.1,691.6 651,700C648.9,708.4 662.1,730.3 646,735C629.9,739.7 545.5,758.3 530,735C514.5,711.7 508.7,583.3 530,560Z" fill="rgb(94,94,94)" filter="url(#Bc25)" style="mix-blend-mode:lighten"/>
<path d="M744,598C746,598.5 752.3,600.4 756,601C759.7,601.6 764.3,601.4 766,601.5" fill="none" stroke="rgb(56,56,56)" stroke-width="6" stroke-linecap="round" stroke-linejoin="round" filter="url(#Bc23)" style="mix-blend-mode:lighten"/>
<path d="M530,530C551.3,502.7 667.1,524.7 690,530C712.9,535.3 701.3,562.8 702,570C702.7,577.2 698.7,580.4 695,584C691.3,587.6 678.8,593.4 674,597C669.2,600.6 662.3,606.9 659,611C655.7,615.1 651.5,622.1 649,628C646.5,633.9 642.1,646.7 640,655C637.9,663.3 634.5,679.3 633,690C631.5,700.7 642.7,729 629,735C615.3,741 543.2,762.3 530,735C516.8,707.7 508.7,557.3 530,530Z" fill="rgb(128,128,128)" filter="url(#Bc25)" style="mix-blend-mode:lighten"/>
<path d="M530,530C550,520.7 658.1,524.7 680,530C701.9,535.3 694.4,562.9 694,570C693.6,577.1 681.9,579.8 677,583C672.1,586.2 661.5,590.7 657,594C652.5,597.3 646.1,603.5 643,608C639.9,612.5 636.3,621.1 634,628C631.7,634.9 627.7,650.4 626,660C624.3,669.6 621.9,690 621,700C620.1,710 622.9,730.3 619,735C615.1,739.7 595.9,741 592,735C588.1,729 590.9,701.3 590,690C589.1,678.7 586.9,659.1 585,650C583.1,640.9 579.3,628.1 576,622C572.7,615.9 566.1,606.9 560,604C553.9,601.1 534,609.9 530,600C526,590.1 510,539.3 530,530Z" fill="rgb(147,147,147)" filter="url(#Bc25)" style="mix-blend-mode:lighten"/>
<path d="M732,572.4L728,578.2L723.6,583.4L718.7,588.1L713.5,592.3L707.6,596L715.8,606.2L721.2,600.9L726.2,595L730.6,588.7L734.3,582L737.3,575.2Z" fill="rgb(128,128,128)" filter="url(#Bc22_6)" style="mix-blend-mode:lighten"/>
<path d="M732.4,573.8L730.1,577.7L727.6,581.4L724.9,584.9L722,588.2L718.8,591.4L723.3,595.5L726.3,591.9L729.1,588L731.7,584L734,579.9L736,575.6Z" fill="rgb(140,140,140)" filter="url(#Bc21_8)" style="mix-blend-mode:lighten"/>
<path d="M581,562L581,588" fill="none" stroke="rgb(178,178,178)" stroke-width="3.2" stroke-linecap="round" stroke-linejoin="round" filter="url(#Bc21_4)" style="mix-blend-mode:lighten"/>
<path d="M581,588L579.5,610" fill="none" stroke="rgb(163,163,163)" stroke-width="4" stroke-linecap="round" stroke-linejoin="round" filter="url(#Bc22_2)" style="mix-blend-mode:lighten"/>
<path d="M634.5,561L631.5,592" fill="none" stroke="rgb(178,178,178)" stroke-width="3.2" stroke-linecap="round" stroke-linejoin="round" filter="url(#Bc21_4)" style="mix-blend-mode:lighten"/>
<path d="M631.5,592L630,614" fill="none" stroke="rgb(163,163,163)" stroke-width="4" stroke-linecap="round" stroke-linejoin="round" filter="url(#Bc22_2)" style="mix-blend-mode:lighten"/>
<path d="M685.5,565L680,588" fill="none" stroke="rgb(173,173,173)" stroke-width="3.2" stroke-linecap="round" stroke-linejoin="round" filter="url(#Bc21_4)" style="mix-blend-mode:lighten"/>
<path d="M680,588L678.5,610" fill="none" stroke="rgb(163,163,163)" stroke-width="4" stroke-linecap="round" stroke-linejoin="round" filter="url(#Bc22_2)" style="mix-blend-mode:lighten"/>
<ellipse cx="560" cy="593" rx="11" ry="17" fill="rgb(94,94,94)" filter="url(#Bc23_5)"/>
<ellipse cx="559" cy="593" rx="5.5" ry="10" fill="rgb(51,51,51)" filter="url(#Bc22_5)"/>
<path d="M587,575L615,575L604,618L599,618Z" fill="rgb(105,105,105)" filter="url(#Bc23_5)"/>
<path d="M643,574L666,572L658,611L653,612Z" fill="rgb(110,110,110)" filter="url(#Bc23_2)"/>
<path d="M708,592L717,585" fill="none" stroke="rgb(56,56,56)" stroke-width="3.5" stroke-linecap="round" stroke-linejoin="round" filter="url(#Bc21_8)"/>
<ellipse cx="711" cy="584" rx="9" ry="5" fill="rgb(97,97,97)" transform="rotate(-38 711 584)" filter="url(#Bc22_8)"/>
<path d="M560,561L569,561.5L576.5,557L581,554.5L585.5,557L599,561.5L608,561L608,520L560,520Z" fill="rgb(0,0,0)" filter="url(#Bc21_2)"/>
<path d="M611,561L620,561.5L630.5,557L635,554.5L639.5,557L650,561.5L659,561L659,520L611,520Z" fill="rgb(0,0,0)" filter="url(#Bc21_2)"/>
<path d="M662,561L671,561.5L682.5,562L687,559.5L691.5,562L701,561.5L710,561L710,520L662,520Z" fill="rgb(0,0,0)" filter="url(#Bc21_2)"/>
<path d="M700,520L699,563L707,569.5L715,575.5L722.5,578.5L729,574L735.5,569L741.5,574L746,582L760,590L800,590L800,520Z" fill="rgb(0,0,0)" filter="url(#Bc21_3)"/>
<ellipse cx="563" cy="568.5" rx="6" ry="3.2" fill="rgb(204,204,204)" transform="rotate(-15 563 568.5)" filter="url(#Bc21_5)" style="mix-blend-mode:lighten"/>
<ellipse cx="613" cy="568" rx="6" ry="2.6" fill="rgb(184,184,184)" transform="rotate(-10 613 568)" filter="url(#Bc21_5)" style="mix-blend-mode:lighten"/>
<ellipse cx="651" cy="563.5" rx="4.5" ry="2.2" fill="rgb(178,178,178)" transform="rotate(35 651 563.5)" filter="url(#Bc21_5)" style="mix-blend-mode:lighten"/>
<ellipse cx="666" cy="568.5" rx="4" ry="2" fill="rgb(173,173,173)" transform="rotate(20 666 568.5)" filter="url(#Bc21_5)" style="mix-blend-mode:lighten"/></g><path d="M556.5,521.5 L556.5,565 L558.5,565 A12.8,14.2 0 0 0 571.3,550.9 A12.8,14.2 0 0 1 596.8,550.9 A12.8,14.2 0 0 0 622.3,550.9 A12.8,14.2 0 0 1 647.8,550.9 A12.8,14.2 0 0 0 673.3,550.9 A12.8,14.2 0 0 1 698.8,550.9 A12.8,14.2 0 0 0 724.3,550.9 A12.8,14.2 0 0 1 749.8,550.9 A12.8,14.2 0 0 0 775.3,550.9 A12.8,14.2 0 0 1 800.8,550.9 A12.8,14.2 0 0 0 826.3,550.9 A12.8,14.2 0 0 1 851.8,550.9 A12.8,14.2 0 0 0 877.3,550.9 A12.8,14.2 0 0 1 902.8,550.9 A12.8,14.2 0 0 0 928.3,550.9 A12.8,14.2 0 0 1 953.8,550.9 A12.8,14.2 0 0 0 979.3,550.9 A12.8,14.2 0 0 1 1004.8,550.9 L1004.8,521.5 Z" fill="#fff" stroke="#fff" stroke-width="1"/></g>
<path d="M560,522 L955,522 L955,557.9" fill="none" stroke="#cccccc" stroke-width="1.2"/>
<!-- panel c3 -->
<g clip-path="url(#Cc3)"><g filter="url(#jetc3)" style="isolation:isolate"><rect x="1002.6" y="517.4" width="406.9" height="197.6" fill="#000"/><rect x="927.6" y="620" width="204" height="130" fill="url(#Gc31)" filter="url(#Bc37)" style="mix-blend-mode:lighten"/>
<path d="M980,530C1000,502.7 1108.3,524.5 1130,530C1151.7,535.5 1140.2,564.2 1143,571C1145.8,577.8 1148.7,578.6 1151,581C1153.3,583.4 1157.6,588.1 1160,589C1162.4,589.9 1166.5,588.6 1169,587.5C1171.5,586.4 1177,582.5 1179,581C1181,579.5 1183.3,575.7 1184.3,576C1185.3,576.3 1186.5,580.5 1186.5,583C1186.5,585.5 1185.1,592.1 1184,595C1182.9,597.9 1180.6,602.5 1178.5,605C1176.4,607.5 1171.3,612 1168,614C1164.7,616 1158,618.4 1154,620C1150,621.6 1142,623.9 1138,626C1134,628.1 1127.5,632.1 1124,636C1120.5,639.9 1114.9,649.1 1112,655C1109.1,660.9 1104.1,673.3 1102,680C1099.9,686.7 1097.1,697.7 1096,705C1094.9,712.3 1109.5,731 1094,735C1078.5,739 995.2,762.3 980,735C964.8,707.7 960,557.3 980,530Z" fill="rgb(94,94,94)" filter="url(#Bc32_4)" style="mix-blend-mode:lighten"/>
<path d="M980,560C1000,536.7 1107.3,555.7 1130,560C1152.7,564.3 1144.7,586.7 1150,592C1155.3,597.3 1168.7,597.3 1170,600C1171.3,602.7 1164,609.2 1160,612C1156,614.8 1144.8,618.2 1140,621C1135.2,623.8 1127.7,628.9 1124,633C1120.3,637.1 1114.9,645.7 1112,652C1109.1,658.3 1104.1,672.9 1102,680C1099.9,687.1 1097.1,697.7 1096,705C1094.9,712.3 1109.5,731 1094,735C1078.5,739 995.2,758.3 980,735C964.8,711.7 960,583.3 980,560Z" fill="rgb(48,48,48)" stroke="rgb(48,48,48)" stroke-width="17" stroke-linejoin="round" filter="url(#Bc35_5)" style="mix-blend-mode:lighten"/>
<path d="M980,560C1000,536.7 1107.3,555.7 1130,560C1152.7,564.3 1144.7,586.7 1150,592C1155.3,597.3 1168.7,597.3 1170,600C1171.3,602.7 1164,609.2 1160,612C1156,614.8 1144.8,618.2 1140,621C1135.2,623.8 1127.7,628.9 1124,633C1120.3,637.1 1114.9,645.7 1112,652C1109.1,658.3 1104.1,672.9 1102,680C1099.9,687.1 1097.1,697.7 1096,705C1094.9,712.3 1109.5,731 1094,735C1078.5,739 995.2,758.3 980,735C964.8,711.7 960,583.3 980,560Z" fill="rgb(94,94,94)" filter="url(#Bc35)" style="mix-blend-mode:lighten"/>
<path d="M980,530C1000,502.7 1108,524.1 1130,530C1152,535.9 1143.5,566.3 1145,574C1146.5,581.7 1143.3,584.5 1141,588C1138.7,591.5 1131.3,596.8 1128,600C1124.7,603.2 1119.1,608.3 1116,612C1112.9,615.7 1107.9,622.3 1105,628C1102.1,633.7 1096.7,646.1 1094,655C1091.3,663.9 1086.7,684.3 1085,695C1083.3,705.7 1095,729.7 1081,735C1067,740.3 993.5,762.3 980,735C966.5,707.7 960,557.3 980,530Z" fill="rgb(128,128,128)" filter="url(#Bc35)" style="mix-blend-mode:lighten"/>
<path d="M980,530C999.3,520.7 1103.9,524.4 1125,530C1146.1,535.6 1138.1,564.8 1138,572C1137.9,579.2 1128.3,580.8 1124,584C1119.7,587.2 1110,592.5 1106,596C1102,599.5 1096.9,605.5 1094,610C1091.1,614.5 1086.5,623.3 1084,630C1081.5,636.7 1077.1,650.7 1075,660C1072.9,669.3 1069.2,690 1068,700C1066.8,710 1069.7,730.3 1066,735C1062.3,739.7 1043.7,741 1040,735C1036.3,729 1038.9,701.3 1038,690C1037.1,678.7 1034.9,658.7 1033,650C1031.1,641.3 1026.8,630.6 1024,625C1021.2,619.4 1017.9,611.3 1012,608C1006.1,604.7 984.3,610.4 980,600C975.7,589.6 960.7,539.3 980,530Z" fill="rgb(152,152,152)" filter="url(#Bc35)" style="mix-blend-mode:lighten"/>
<path d="M1031,566L1031,587" fill="none" stroke="rgb(184,184,184)" stroke-width="3" stroke-linecap="round" stroke-linejoin="round" filter="url(#Bc31_3)" style="mix-blend-mode:lighten"/>
<path d="M1031,587L1029.5,609" fill="none" stroke="rgb(168,168,168)" stroke-width="4" stroke-linecap="round" stroke-linejoin="round" filter="url(#Bc32_2)" style="mix-blend-mode:lighten"/>
<path d="M1083.5,565L1080,592" fill="none" stroke="rgb(184,184,184)" stroke-width="3" stroke-linecap="round" stroke-linejoin="round" filter="url(#Bc31_3)" style="mix-blend-mode:lighten"/>
<path d="M1080,592L1078.5,614" fill="none" stroke="rgb(168,168,168)" stroke-width="4" stroke-linecap="round" stroke-linejoin="round" filter="url(#Bc32_2)" style="mix-blend-mode:lighten"/>
<path d="M1134.5,568L1128,592" fill="none" stroke="rgb(178,178,178)" stroke-width="3" stroke-linecap="round" stroke-linejoin="round" filter="url(#Bc31_3)" style="mix-blend-mode:lighten"/>
<path d="M1128,592L1126.5,614" fill="none" stroke="rgb(168,168,168)" stroke-width="4" stroke-linecap="round" stroke-linejoin="round" filter="url(#Bc32_2)" style="mix-blend-mode:lighten"/>
<ellipse cx="1009" cy="594" rx="9" ry="15" fill="rgb(102,102,102)" filter="url(#Bc33_5)"/>
<path d="M1040,578L1066,578L1055,612L1051,612Z" fill="rgb(128,128,128)" filter="url(#Bc34)"/>
<path d="M1093,578L1115,576L1106,608L1102,609Z" fill="rgb(128,128,128)" filter="url(#Bc33_5)"/>
<path d="M1009,562L1019,563L1026,562L1031,560.5L1036,562L1047,563L1057,562L1057,520L1009,520Z" fill="rgb(0,0,0)" filter="url(#Bc31_2)"/>
<path d="M1059.8,562L1069.8,563L1078,561.5L1083,560L1088,561.5L1097.8,563L1107.8,562L1107.8,520L1059.8,520Z" fill="rgb(0,0,0)" filter="url(#Bc31_2)"/>
<path d="M1108,520L1108,562L1117,566.8L1127,566.3L1134.3,563.3L1139,567L1144,573L1151,582L1156,587L1161,590L1168,588.5L1176,583.5L1181,578.5L1184.5,575L1187.5,580L1190,590L1230,590L1230,520Z" fill="rgb(0,0,0)" filter="url(#Bc31_3)"/>
<ellipse cx="1010" cy="568" rx="7" ry="3.3" fill="rgb(219,219,219)" transform="rotate(-18 1010 568)" filter="url(#Bc31_5)" style="mix-blend-mode:lighten"/>
<ellipse cx="1061" cy="569" rx="7" ry="2.8" fill="rgb(194,194,194)" transform="rotate(-8 1061 569)" filter="url(#Bc31_5)" style="mix-blend-mode:lighten"/>
<ellipse cx="1075" cy="566" rx="5" ry="2.2" fill="rgb(173,173,173)" transform="rotate(-25 1075 566)" filter="url(#Bc31_5)" style="mix-blend-mode:lighten"/></g><path d="M1005.6,522.4 L1005.6,565 L1007.6,565 A12.7,13.9 0 0 0 1020.3,551.1 A12.7,13.9 0 0 1 1045.7,551.1 A12.7,13.9 0 0 0 1071.1,551.1 A12.7,13.9 0 0 1 1096.5,551.1 A12.7,13.9 0 0 0 1121.9,551.1 A12.7,13.9 0 0 1 1147.3,551.1 A12.7,13.9 0 0 0 1172.7,551.1 A12.7,13.9 0 0 1 1198.1,551.1 A12.7,13.9 0 0 0 1223.5,551.1 A12.7,13.9 0 0 1 1248.9,551.1 A12.7,13.9 0 0 0 1274.3,551.1 A12.7,13.9 0 0 1 1299.7,551.1 A12.7,13.9 0 0 0 1325.1,551.1 A12.7,13.9 0 0 1 1350.5,551.1 A12.7,13.9 0 0 0 1375.9,551.1 A12.7,13.9 0 0 1 1401.3,551.1 A12.7,13.9 0 0 0 1426.7,551.1 A12.7,13.9 0 0 1 1452.1,551.1 L1452.1,522.4 Z" fill="#fff" stroke="#fff" stroke-width="1"/></g>
<path d="M1008.1,565 L1008.1,522.9 L1404,522.9 L1404,560.3" fill="none" stroke="#b0b0b0" stroke-width="1.4"/>
<!-- panel d1 -->
<g clip-path="url(#Cd1)"><g filter="url(#jetd1)" style="isolation:isolate"><rect x="107.5" y="762.5" width="409" height="197.5" fill="#000"/><rect x="32.5" y="842" width="206" height="153" fill="url(#Gd11)" filter="url(#Bd18)" style="mix-blend-mode:lighten"/>
<path d="M100,900C93.3,894.9 98.3,867.9 100,862C101.7,856.1 110.1,859.7 113,856C115.9,852.3 119.6,839.7 122,834C124.4,828.3 128.9,818.9 131,813C133.1,807.1 136.4,794.9 138,790C139.6,785.1 141.4,778.5 143,776C144.6,773.5 148.1,771 150,771C151.9,771 155.5,773.2 157,776C158.5,778.8 159.9,786.8 161,792C162.1,797.2 163.5,809.3 165,815C166.5,820.7 169.6,830.7 172,835C174.4,839.3 179.8,846.6 183,847C186.2,847.4 192.7,842.1 196,838C199.3,833.9 205.5,822.1 208,816C210.5,809.9 213.4,797.2 215,792C216.6,786.8 218.4,779.8 220,777C221.6,774.2 225.1,771 227,771C228.9,771 232.5,773.9 234,777C235.5,780.1 237.2,788.9 238,794C238.8,799.1 239.2,810.3 240,815C240.8,819.7 242.3,825.7 244,829C245.7,832.3 249.8,839.3 253,840C256.2,840.7 264.1,836.3 268,834C271.9,831.7 278.9,826.2 282,823C285.1,819.8 289.1,812.8 291,810C292.9,807.2 294.8,803.4 296,802C297.2,800.6 298.9,799.2 300,799.5C301.1,799.8 303.2,801.8 304,804C304.8,806.2 305.6,812 306,816C306.4,820 307.8,830 307,834C306.2,838 302.9,843.3 300,846C297.1,848.7 290.3,851.9 285,854C279.7,856.1 267.3,859.2 260,862C252.7,864.8 238,871.3 230,875C222,878.7 210.7,886.7 200,890C189.3,893.3 163.3,898.7 150,900C136.7,901.3 106.7,905.1 100,900Z" fill="rgb(94,94,94)" filter="url(#Bd12_4)" style="mix-blend-mode:lighten"/>
<path d="M100,866C104.7,860.9 128.3,857.9 140,856C151.7,854.1 187.2,850.9 200,850C212.8,849.1 239.5,848.9 250,848C260.5,847.1 283.6,843.2 290,842C296.4,840.8 303.8,836.8 305,838C306.2,839.2 302.9,849.2 300,852C297.1,854.8 284.9,859.7 280,862C275.1,864.3 262.9,869 258,872C253.1,875 242.7,883.6 238,888C233.3,892.4 222.4,904.5 218,910C213.6,915.5 202.9,929.8 200,935C197.1,940.2 193.9,950.3 193,955C192.1,959.7 202.8,972.7 192,975C181.2,977.3 110.7,983.8 100,975C89.3,966.2 100,912.7 100,900C100,887.3 95.3,871.1 100,866Z" fill="rgb(94,94,94)" filter="url(#Bd15)" style="mix-blend-mode:lighten"/>
<path d="M200,870C209.3,865.1 248.3,860.8 260,858C271.7,855.2 293.9,846.9 300,846C306.1,845.1 311.8,847.7 312,850C312.2,852.3 305.7,862.5 302,866C298.3,869.5 284.9,876.7 280,880C275.1,883.3 264.4,890 260,894C255.6,898 245.8,908.9 242,914C238.2,919.1 229.9,932.4 227,938C224.1,943.6 218.6,957.1 217,962C215.4,966.9 217.3,977.9 213,980C208.7,982.1 183.8,989.3 180,980C176.2,970.7 177.7,912.8 180,900C182.3,887.2 190.7,874.9 200,870Z" fill="rgb(54,54,54)" filter="url(#Bd16_5)" style="mix-blend-mode:lighten"/>
<path d="M300,846C303,846.8 312.2,849.8 318,851C323.8,852.2 332.2,853.1 335,853.5" fill="none" stroke="rgb(51,51,51)" stroke-width="7" stroke-linecap="round" stroke-linejoin="round" filter="url(#Bd13_5)" style="mix-blend-mode:lighten"/>
<path d="M156,970C156.2,960.8 155.8,930 157,915C158.2,900 159.2,888.8 163,880C166.8,871.2 173,867 180,862C187,857 200.8,852 205,850" fill="none" stroke="rgb(133,133,133)" stroke-width="32" stroke-linecap="round" stroke-linejoin="round" filter="url(#Bd17)" style="mix-blend-mode:lighten"/>
<path d="M156,970C156,959.2 155.8,921.7 156,905C156.2,888.3 157,880 157,870C157,860 156.2,849.2 156,845" fill="none" stroke="rgb(153,153,153)" stroke-width="22" stroke-linecap="round" stroke-linejoin="round" filter="url(#Bd15)" style="mix-blend-mode:lighten"/>
<path d="M159,777L163,793L167,815L174,833L183.5,843L194,835L206,815L213,792L218,778Z" fill="rgb(0,0,0)" filter="url(#Bd12_2)"/>
<path d="M236,778L240,795L242,815L246,828L253.5,836L266,831L280,820L289,809L296,800L270,790Z" fill="rgb(0,0,0)" filter="url(#Bd12_2)"/>
<path d="M100,812L129,812L120,833L112,851L100,857Z" fill="rgb(0,0,0)" filter="url(#Bd12_2)"/>
<path d="M100,830L121,834L116,856L110,874L100,886Z" fill="rgb(43,43,43)" filter="url(#Bd14)"/>
<path d="M145.6,777.1L142.7,796.4L139.7,815.6L136.5,834.8L133.2,853.9L129.8,873.1L173.8,872.9L170.2,853.6L166.5,834.4L162.7,815.1L158.7,796L154.6,776.9Z" fill="rgb(153,153,153)" filter="url(#Bd13_5)" style="mix-blend-mode:lighten"/>
<path d="M146.6,776.1L146,791.5L145.3,806.9L144.5,822.3L143.7,837.7L142.7,853.1L160.7,852.9L159.5,837.5L158.1,822.1L156.7,806.6L155.2,791.3L153.6,775.9Z" fill="rgb(161,161,161)" filter="url(#Bd12_5)" style="mix-blend-mode:lighten"/>
<path d="M147.4,776.1L147.5,783.1L147.5,790.1L147.6,797.1L147.7,804.1L147.8,811.1L154.8,810.9L154.4,803.9L154,796.9L153.6,789.9L153.2,782.9L152.9,775.9Z" fill="rgb(184,184,184)" filter="url(#Bd12)" style="mix-blend-mode:lighten"/>
<path d="M147.9,776.1L147.9,779.1L148,782.1L148,785.1L148.1,788.1L148.1,791.1L153.1,790.9L153,787.9L152.8,784.9L152.7,781.9L152.5,778.9L152.4,775.9Z" fill="rgb(199,199,199)" filter="url(#Bd11_6)" style="mix-blend-mode:lighten"/>
<path d="M222.2,776.3L216,794.3L207.9,810.8L198.1,825.9L186.7,839.3L173.3,851.9L209.1,877.6L218,859L225.2,838.7L229.7,818.2L231.7,797.6L231.1,777.6Z" fill="rgb(153,153,153)" filter="url(#Bd13_5)" style="mix-blend-mode:lighten"/>
<path d="M223.3,775.5L220.1,790.4L215.7,804.7L209.9,818.4L202.9,831.3L194.6,843.9L210.2,852.7L217,838.5L222.6,823.3L226.6,807.8L229.2,792.1L230.2,776.5Z" fill="rgb(161,161,161)" filter="url(#Bd12_5)" style="mix-blend-mode:lighten"/>
<path d="M224,775.7L223.2,782.7L222.5,789.7L221.7,796.6L221,803.6L220.2,810.6L227.2,811.2L227.6,804.2L228.1,797.2L228.6,790.2L229,783.2L229.5,776.2Z" fill="rgb(168,168,168)" filter="url(#Bd12)" style="mix-blend-mode:lighten"/>
<path d="M224.5,775.8L224.2,778.8L223.9,781.8L223.6,784.7L223.3,787.7L222.9,790.7L227.9,791.1L228.1,788.2L228.3,785.2L228.6,782.2L228.8,779.2L229,776.2Z" fill="rgb(184,184,184)" filter="url(#Bd11_6)" style="mix-blend-mode:lighten"/>
<path d="M296.4,803.1L292.1,814.5L285.2,823.5L276.4,829.9L266.5,833.5L255,834.3L259.6,855.8L273,851.3L285.8,842.9L295.4,831.5L301.3,818.3L303.2,804.8Z" fill="rgb(120,120,120)" filter="url(#Bd13_2)" style="mix-blend-mode:lighten"/>
<path d="M297.2,804.5L295.5,811.5L292.9,817.9L289.2,823.7L284.8,828.9L279.4,833.4L285.6,840L290.9,834.4L295.4,827.8L298.9,820.6L301.1,813L302.1,805.4Z" fill="rgb(135,135,135)" filter="url(#Bd12_2)" style="mix-blend-mode:lighten"/></g><path d="M110.5,767.5 L110.5,812.3 L112.5,812.3 A19.2,22.2 0 0 0 131.7,790 A19.2,22.2 0 0 1 170,790 A19.2,22.2 0 0 0 208.3,790 A19.2,22.2 0 0 1 246.6,790 A19.2,22.2 0 0 0 284.9,790 A19.2,22.2 0 0 1 323.2,790 A19.2,22.2 0 0 0 361.5,790 A19.2,22.2 0 0 1 399.8,790 A19.2,22.2 0 0 0 438.1,790 A19.2,22.2 0 0 1 476.4,790 A19.2,22.2 0 0 0 514.7,790 A19.2,22.2 0 0 1 553,790 L553,767.5 Z" fill="#fff" stroke="#fff" stroke-width="1"/></g>
<path d="M113,768 L511,768 L511,802.3" fill="none" stroke="#a0a0a0" stroke-width="1.4"/>
<!-- panel d2 -->
<g clip-path="url(#Cd2)"><g filter="url(#jetd2)" style="isolation:isolate"><rect x="553.6" y="763.5" width="409.4" height="197.5" fill="#000"/><rect x="478.6" y="870" width="202" height="126" fill="url(#Gd21)" filter="url(#Bd28)" style="mix-blend-mode:lighten"/>
<path d="M530,760C551.3,730 667.6,753.6 690,760C712.4,766.4 695.7,800 698,808C700.3,816 704.9,817.2 707,820C709.1,822.8 712.1,827.5 714,829C715.9,830.5 719.1,831.5 721,831.5C722.9,831.5 726,830.3 728,829C730,827.7 734.1,824 736,822C737.9,820 740.5,815.9 742,814C743.5,812.1 745.7,807.9 747,808C748.3,808.1 750.9,812.3 751.5,815C752.1,817.7 752.5,824.4 751.5,828C750.5,831.6 746.9,838.8 744,842C741.1,845.2 734.8,850 730,852C725.2,854 713.3,855.4 708,857C702.7,858.6 694.3,861.2 690,864C685.7,866.8 679.7,873.2 676,878C672.3,882.8 665.2,893.7 662,900C658.8,906.3 653.9,918.3 652,925C650.1,931.7 648.8,942 648,950C647.2,958 661.7,980.3 646,985C630.3,989.7 545.5,1015 530,985C514.5,955 508.7,790 530,760Z" fill="rgb(94,94,94)" filter="url(#Bd22_6)" style="mix-blend-mode:lighten"/>
<path d="M530,800C551.3,775.3 665.7,794.9 690,800C714.3,805.1 705.9,832.7 712,838C718.1,843.3 734.1,838.4 736,840C737.9,841.6 730,847.7 726,850C722,852.3 710.8,855 706,857C701.2,859 694,862.2 690,865C686,867.8 679.7,873.3 676,878C672.3,882.7 665.2,893.7 662,900C658.8,906.3 653.9,918.3 652,925C650.1,931.7 648.8,942 648,950C647.2,958 661.7,980.3 646,985C630.3,989.7 545.5,1009.7 530,985C514.5,960.3 508.7,824.7 530,800Z" fill="rgb(48,48,48)" stroke="rgb(48,48,48)" stroke-width="17" stroke-linejoin="round" filter="url(#Bd25_5)" style="mix-blend-mode:lighten"/>
<path d="M530,800C551.3,775.3 665.7,794.9 690,800C714.3,805.1 705.9,832.7 712,838C718.1,843.3 734.1,838.4 736,840C737.9,841.6 730,847.7 726,850C722,852.3 710.8,855 706,857C701.2,859 694,862.2 690,865C686,867.8 679.7,873.3 676,878C672.3,882.7 665.2,893.7 662,900C658.8,906.3 653.9,918.3 652,925C650.1,931.7 648.8,942 648,950C647.2,958 661.7,980.3 646,985C630.3,989.7 545.5,1009.7 530,985C514.5,960.3 508.7,824.7 530,800Z" fill="rgb(94,94,94)" filter="url(#Bd25_5)" style="mix-blend-mode:lighten"/>
<path d="M530,760C551.3,730 667.3,753.1 690,760C712.7,766.9 697.6,803.1 700,812C702.4,820.9 708,823.3 708,827C708,830.7 703.2,836.9 700,840C696.8,843.1 688.3,847.1 684,850C679.7,852.9 671.7,858.3 668,862C664.3,865.7 659.2,872.3 656,878C652.8,883.7 646.7,896.7 644,905C641.3,913.3 637.6,929.3 636,940C634.4,950.7 646.1,979 632,985C617.9,991 543.6,1015 530,985C516.4,955 508.7,790 530,760Z" fill="rgb(128,128,128)" filter="url(#Bd25)" style="mix-blend-mode:lighten"/>
<path d="M530,760C550.8,748.7 663.9,753.1 686,760C708.1,766.9 695.7,803.2 696,812C696.3,820.8 691.2,822.3 688,826C684.8,829.7 676.3,836.4 672,840C667.7,843.6 659.7,849 656,853C652.3,857 647.1,864.1 644,870C640.9,875.9 635.5,888.7 633,897C630.5,905.3 626.7,923.6 625,932C623.3,940.4 620.9,952.9 620,960C619.1,967.1 621.7,981.7 618,985C614.3,988.3 595.7,991 592,985C588.3,979 590.8,951.3 590,940C589.2,928.7 587.6,909.3 586,900C584.4,890.7 581.2,876.7 578,870C574.8,863.3 568.4,853.3 562,850C555.6,846.7 534.3,857 530,845C525.7,833 509.2,771.3 530,760Z" fill="rgb(152,152,152)" filter="url(#Bd25)" style="mix-blend-mode:lighten"/>
<path d="M745.2,813.8L744.2,820.7L741.4,826.5L737.1,831.1L731.7,834.2L725.2,835.7L728.2,845.2L735.7,842.3L742.5,837L747.4,830L750.1,822L750.2,814.2Z" fill="rgb(133,133,133)" filter="url(#Bd22_2)" style="mix-blend-mode:lighten"/>
<path d="M584.2,775.3L585.2,788.4L585.8,801.5L586.2,814.5L586.4,827.6L586.2,840.7L598.2,841.2L599.2,828L599.8,814.7L600.2,801.3L600.4,787.9L600.2,774.7Z" fill="rgb(161,161,161)" filter="url(#Bd23_5)" style="mix-blend-mode:lighten"/>
<path d="M586.8,774.3L587.9,782.6L588.8,790.9L589.7,799.2L590.4,807.6L591,816L594.5,815.9L595,807.5L595.4,799.1L595.6,790.6L595.8,782.2L595.8,773.7Z" fill="rgb(178,178,178)" filter="url(#Bd22_2)" style="mix-blend-mode:lighten"/>
<path d="M587.8,774.2L588.2,777L588.6,779.8L589,782.5L589.4,785.3L589.8,788.1L593.8,787.8L593.8,785L593.8,782.2L593.8,779.4L593.8,776.6L593.8,773.8Z" fill="rgb(189,189,189)" filter="url(#Bd21_8)" style="mix-blend-mode:lighten"/>
<path d="M671,796L671,813" fill="none" stroke="rgb(178,178,178)" stroke-width="3" stroke-linecap="round" stroke-linejoin="round" filter="url(#Bd21_3)" style="mix-blend-mode:lighten"/>
<path d="M671,813L669,836" fill="none" stroke="rgb(166,166,166)" stroke-width="4" stroke-linecap="round" stroke-linejoin="round" filter="url(#Bd22_2)" style="mix-blend-mode:lighten"/>
<path d="M593,812L592,850" fill="none" stroke="rgb(166,166,166)" stroke-width="5" stroke-linecap="round" stroke-linejoin="round" filter="url(#Bd22_5)" style="mix-blend-mode:lighten"/>
<ellipse cx="560" cy="842" rx="12" ry="20" fill="rgb(97,97,97)" filter="url(#Bd24)"/>
<ellipse cx="559" cy="842" rx="6" ry="12" fill="rgb(56,56,56)" filter="url(#Bd22_8)"/>
<path d="M612,820L655,820L640,862L630,862Z" fill="rgb(128,128,128)" filter="url(#Bd25)"/>
<ellipse cx="652" cy="790" rx="7" ry="5" fill="rgb(128,128,128)" filter="url(#Bd23)"/>
<path d="M640,760L649,807L655,799L662,792.5L667.5,788.5L671,786.5L676,788L682,790L688,795L692,800L694.5,806L700,813L707,821L714,830L721,832.5L728,830L736,823L742,815L747,807.5L752.5,813L760,830L800,830L800,760Z" fill="rgb(0,0,0)" filter="url(#Bd21_3)"/>
<path d="M600,760L603,772L608,780L612,790L615,798L622,798L622,760Z" fill="rgb(0,0,0)" filter="url(#Bd21_6)"/>
<path d="M574.5,791 A19.5,22.5 0 0 1 613.5,791" fill="none" stroke="#000" stroke-width="3.2" filter="url(#Bd20_9)"/>
<ellipse cx="631" cy="813" rx="6" ry="2.5" fill="rgb(173,173,173)" transform="rotate(8 631 813)" filter="url(#Bd21_6)" style="mix-blend-mode:lighten"/></g><path d="M553,768.5 L553,809.5 L555,809.5 A19.5,22.5 0 0 0 574.5,787 A19.5,22.5 0 0 1 613.5,787 A19.5,22.5 0 0 0 652.5,787 A19.5,22.5 0 0 1 691.5,787 A19.5,22.5 0 0 0 730.5,787 A19.5,22.5 0 0 1 769.5,787 A19.5,22.5 0 0 0 808.5,787 A19.5,22.5 0 0 1 847.5,787 A19.5,22.5 0 0 0 886.5,787 A19.5,22.5 0 0 1 925.5,787 A19.5,22.5 0 0 0 964.5,787 A19.5,22.5 0 0 1 1003.5,787 L1003.5,768.5 Z" fill="#fff" stroke="#fff" stroke-width="1"/></g>
<path d="M559.1,769 L957.5,769 L957.5,803.8" fill="none" stroke="#cccccc" stroke-width="1.2"/>
<!-- panel d3 -->
<g clip-path="url(#Cd3)"><g filter="url(#jetd3)" style="isolation:isolate"><rect x="994.5" y="761.4" width="406.9" height="198.1" fill="#000"/><rect x="919.5" y="870" width="204" height="124.5" fill="url(#Gd31)" filter="url(#Bd38)" style="mix-blend-mode:lighten"/>
<path d="M970,760C990,730 1099.1,754.7 1120,760C1140.9,765.3 1124.7,792.8 1127,800C1129.3,807.2 1134.3,810 1137,814C1139.7,818 1144.6,826 1147,830C1149.4,834 1152.9,842.4 1155,844C1157.1,845.6 1160.6,843.1 1163,842C1165.4,840.9 1170.6,838.1 1173,836C1175.4,833.9 1179.3,828.1 1181,826C1182.7,823.9 1185.1,820 1186,820.5C1186.9,821 1188.3,827.1 1188,830C1187.7,832.9 1185.6,839.1 1184,842C1182.4,844.9 1179.1,849.6 1176,852C1172.9,854.4 1165.8,858.1 1161,860C1156.2,861.9 1145.2,864.1 1140,866C1134.8,867.9 1126,870.8 1122,874C1118,877.2 1112.9,884.9 1110,890C1107.1,895.1 1102,906 1100,912C1098,918 1095.9,925.3 1095,935C1094.1,944.7 1109.7,978.3 1093,985C1076.3,991.7 986.4,1015 970,985C953.6,955 950,790 970,760Z" fill="rgb(94,94,94)" filter="url(#Bd32_6)" style="mix-blend-mode:lighten"/>
<path d="M970,800C990,775.3 1096.5,793.9 1120,800C1143.5,806.1 1139.9,839.3 1146,846C1152.1,852.7 1164.9,848.1 1166,850C1167.1,851.9 1158,857.9 1154,860C1150,862.1 1140.5,864 1136,866C1131.5,868 1123.7,871.5 1120,875C1116.3,878.5 1110.8,886.7 1108,892C1105.2,897.3 1100.7,908.6 1099,915C1097.3,921.4 1095.8,930.7 1095,940C1094.2,949.3 1109.7,979 1093,985C1076.3,991 986.4,1009.7 970,985C953.6,960.3 950,824.7 970,800Z" fill="rgb(48,48,48)" stroke="rgb(48,48,48)" stroke-width="17" stroke-linejoin="round" filter="url(#Bd35_5)" style="mix-blend-mode:lighten"/>
<path d="M970,800C990,775.3 1096.5,793.9 1120,800C1143.5,806.1 1139.9,839.3 1146,846C1152.1,852.7 1164.9,848.1 1166,850C1167.1,851.9 1158,857.9 1154,860C1150,862.1 1140.5,864 1136,866C1131.5,868 1123.7,871.5 1120,875C1116.3,878.5 1110.8,886.7 1108,892C1105.2,897.3 1100.7,908.6 1099,915C1097.3,921.4 1095.8,930.7 1095,940C1094.2,949.3 1109.7,979 1093,985C1076.3,991 986.4,1009.7 970,985C953.6,960.3 950,824.7 970,800Z" fill="rgb(94,94,94)" filter="url(#Bd35_5)" style="mix-blend-mode:lighten"/>
<path d="M970,760C990,730 1098.4,753.1 1120,760C1141.6,766.9 1128.9,802.4 1132,812C1135.1,821.6 1143.4,827.5 1143,832C1142.6,836.5 1132.5,842.8 1129,846C1125.5,849.2 1120.2,853.1 1117,856C1113.8,858.9 1108.1,863.5 1105,868C1101.9,872.5 1096.5,883.1 1094,890C1091.5,896.9 1087.7,912 1086,920C1084.3,928 1081.9,941.3 1081,950C1080.1,958.7 1093.8,980.3 1079,985C1064.2,989.7 984.5,1015 970,985C955.5,955 950,790 970,760Z" fill="rgb(128,128,128)" filter="url(#Bd35)" style="mix-blend-mode:lighten"/>
<path d="M970,760C989.5,749.9 1095.2,753.9 1116,760C1136.8,766.1 1124,798.3 1126,806C1128,813.7 1131.9,814.5 1131,818C1130.1,821.5 1122.7,828.3 1119,832C1115.3,835.7 1107,842.3 1103,846C1099,849.7 1092.1,856 1089,860C1085.9,864 1082.3,870 1080,876C1077.7,882 1073.9,895.8 1072,905C1070.1,914.2 1067.1,934.3 1066,945C1064.9,955.7 1068.3,979.7 1064,985C1059.7,990.3 1038.3,992.3 1034,985C1029.7,977.7 1033.1,943.3 1032,930C1030.9,916.7 1028.1,894.6 1026,885C1023.9,875.4 1019.1,863.7 1016,858C1012.9,852.3 1009.1,844.9 1003,842C996.9,839.1 974.4,846.9 970,836C965.6,825.1 950.5,770.1 970,760Z" fill="rgb(153,153,153)" filter="url(#Bd35)" style="mix-blend-mode:lighten"/>
<path d="M1034,799L1034,819" fill="none" stroke="rgb(184,184,184)" stroke-width="3" stroke-linecap="round" stroke-linejoin="round" filter="url(#Bd31_3)" style="mix-blend-mode:lighten"/>
<path d="M1034,819L1034,849" fill="none" stroke="rgb(168,168,168)" stroke-width="4.5" stroke-linecap="round" stroke-linejoin="round" filter="url(#Bd32_4)" style="mix-blend-mode:lighten"/>
<path d="M1112,799L1112,819" fill="none" stroke="rgb(184,184,184)" stroke-width="3" stroke-linecap="round" stroke-linejoin="round" filter="url(#Bd31_3)" style="mix-blend-mode:lighten"/>
<path d="M1112,819L1112,849" fill="none" stroke="rgb(168,168,168)" stroke-width="4.5" stroke-linecap="round" stroke-linejoin="round" filter="url(#Bd32_4)" style="mix-blend-mode:lighten"/>
<ellipse cx="1001" cy="858" rx="10" ry="22" fill="rgb(107,107,107)" filter="url(#Bd34)"/>
<path d="M1055,826L1092,826L1078,866L1070,866Z" fill="rgb(133,133,133)" filter="url(#Bd35)"/>
<path d="M996,815L1014,806L1024,798.5L1030,793L1034,791.5L1038,793L1048,798.5L1058,806L1076,815L1076,750L996,750Z" fill="rgb(0,0,0)" filter="url(#Bd31_4)"/>
<path d="M1073,815L1091,806L1101,798.5L1108,794L1112,792.5L1116,794L1125,798.5L1135,806L1153,815L1153,750L1073,750Z" fill="rgb(0,0,0)" filter="url(#Bd31_4)"/>
<path d="M1125,750L1125,797L1131,805L1137,814.5L1147,831L1155,845L1163,843L1173,837L1181,827L1186.3,819.8L1189.5,826L1195,840L1240,840L1240,750Z" fill="rgb(0,0,0)" filter="url(#Bd31_3)"/>
<ellipse cx="1004" cy="814.5" rx="9" ry="3.4" fill="rgb(219,219,219)" transform="rotate(-22 1004 814.5)" filter="url(#Bd31_6)" style="mix-blend-mode:lighten"/>
<ellipse cx="1072" cy="816" rx="8" ry="3" fill="rgb(194,194,194)" transform="rotate(5 1072 816)" filter="url(#Bd31_6)" style="mix-blend-mode:lighten"/>
<ellipse cx="1088" cy="811" rx="5" ry="2.4" fill="rgb(173,173,173)" transform="rotate(-30 1088 811)" filter="url(#Bd31_6)" style="mix-blend-mode:lighten"/>
<ellipse cx="1056" cy="811" rx="5" ry="2.4" fill="rgb(173,173,173)" transform="rotate(30 1056 811)" filter="url(#Bd31_6)" style="mix-blend-mode:lighten"/></g><path d="M995.5,766.4 L995.5,811.5 L997.5,811.5 A19.2,22.5 0 0 0 1016.7,789 A19.2,22.5 0 0 1 1055.2,789 A19.2,22.5 0 0 0 1093.7,789 A19.2,22.5 0 0 1 1132.2,789 A19.2,22.5 0 0 0 1170.7,789 A19.2,22.5 0 0 1 1209.2,789 A19.2,22.5 0 0 0 1247.7,789 A19.2,22.5 0 0 1 1286.2,789 A19.2,22.5 0 0 0 1324.7,789 A19.2,22.5 0 0 1 1363.2,789 A19.2,22.5 0 0 0 1401.7,789 A19.2,22.5 0 0 1 1440.2,789 L1440.2,766.4 Z" fill="#fff" stroke="#fff" stroke-width="1"/></g>
<path d="M1000,811.5 L1000,766.9 L1395.9,766.9 L1395.9,804.5" fill="none" stroke="#b8b8b8" stroke-width="1.3"/>
<line x1="110.9" y1="48.5" x2="110.9" y2="241" stroke="#000" stroke-width="3.2"/>
<line x1="92.5" y1="96.8" x2="110" y2="96.8" stroke="#000" stroke-width="3.2"/>
<line x1="102" y1="191.8" x2="110" y2="191.8" stroke="#000" stroke-width="3.2"/>
<text x="70" y="110.4" text-anchor="middle" style="font-family:'Liberation Serif','Times New Roman',serif;font-size:43px">8</text>
<text x="104.5" y="244.5" text-anchor="end" style="font-family:'Liberation Serif','Times New Roman',serif;font-size:44px">6.5</text>
<line x1="110.9" y1="279.9" x2="110.9" y2="473.5" stroke="#000" stroke-width="3.2"/>
<line x1="92.5" y1="330.4" x2="110" y2="330.4" stroke="#000" stroke-width="3.2"/>
<line x1="102" y1="425.4" x2="110" y2="425.4" stroke="#000" stroke-width="3.2"/>
<text x="70" y="344" text-anchor="middle" style="font-family:'Liberation Serif','Times New Roman',serif;font-size:43px">8</text>
<text x="104.5" y="477" text-anchor="end" style="font-family:'Liberation Serif','Times New Roman',serif;font-size:44px">6.5</text>
<line x1="110.9" y1="522.9" x2="110.9" y2="715.6" stroke="#000" stroke-width="3.2"/>
<line x1="92.5" y1="571" x2="110" y2="571" stroke="#000" stroke-width="3.2"/>
<line x1="102" y1="666" x2="110" y2="666" stroke="#000" stroke-width="3.2"/>
<text x="70" y="584.6" text-anchor="middle" style="font-family:'Liberation Serif','Times New Roman',serif;font-size:43px">8</text>
<text x="104.5" y="719.1" text-anchor="end" style="font-family:'Liberation Serif','Times New Roman',serif;font-size:44px">6.5</text>
<line x1="110.9" y1="765" x2="110.9" y2="958" stroke="#000" stroke-width="3.2"/>
<line x1="92.5" y1="812.5" x2="110" y2="812.5" stroke="#000" stroke-width="3.2"/>
<line x1="102" y1="907.5" x2="110" y2="907.5" stroke="#000" stroke-width="3.2"/>
<text x="70" y="826.1" text-anchor="middle" style="font-family:'Liberation Serif','Times New Roman',serif;font-size:43px">8</text>
<text x="104.5" y="961.5" text-anchor="end" style="font-family:'Liberation Serif','Times New Roman',serif;font-size:44px">6.5</text>
<line x1="109.3" y1="955.5" x2="512" y2="955.5" stroke="#000" stroke-width="3.2"/>
<line x1="110.7" y1="955" x2="110.7" y2="972.3" stroke="#000" stroke-width="3.2"/>
<text x="110.2" y="1018.6" text-anchor="middle" style="font-family:'Liberation Serif','Times New Roman',serif;font-size:42.5px">0</text>
<line x1="190.3" y1="955" x2="190.3" y2="972.3" stroke="#000" stroke-width="3.2"/>
<text x="189.8" y="1018.6" text-anchor="middle" style="font-family:'Liberation Serif','Times New Roman',serif;font-size:42.5px">1</text>
<line x1="269.9" y1="955" x2="269.9" y2="972.3" stroke="#000" stroke-width="3.2"/>
<text x="269.4" y="1018.6" text-anchor="middle" style="font-family:'Liberation Serif','Times New Roman',serif;font-size:42.5px">2</text>
<line x1="349.5" y1="955" x2="349.5" y2="972.3" stroke="#000" stroke-width="3.2"/>
<text x="349" y="1018.6" text-anchor="middle" style="font-family:'Liberation Serif','Times New Roman',serif;font-size:42.5px">3</text>
<line x1="429.1" y1="955" x2="429.1" y2="972.3" stroke="#000" stroke-width="3.2"/>
<text x="428.6" y="1018.6" text-anchor="middle" style="font-family:'Liberation Serif','Times New Roman',serif;font-size:42.5px">4</text>
<line x1="560.4" y1="956" x2="560.4" y2="973.3" stroke="#000" stroke-width="3.2"/>
<text x="559.9" y="1018.6" text-anchor="middle" style="font-family:'Liberation Serif','Times New Roman',serif;font-size:42.5px">0</text>
<line x1="640.3" y1="956" x2="640.3" y2="973.3" stroke="#000" stroke-width="3.2"/>
<text x="639.8" y="1018.6" text-anchor="middle" style="font-family:'Liberation Serif','Times New Roman',serif;font-size:42.5px">1</text>
<line x1="720.2" y1="956" x2="720.2" y2="973.3" stroke="#000" stroke-width="3.2"/>
<text x="719.7" y="1018.6" text-anchor="middle" style="font-family:'Liberation Serif','Times New Roman',serif;font-size:42.5px">2</text>
<line x1="800.1" y1="956" x2="800.1" y2="973.3" stroke="#000" stroke-width="3.2"/>
<text x="799.6" y="1018.6" text-anchor="middle" style="font-family:'Liberation Serif','Times New Roman',serif;font-size:42.5px">3</text>
<line x1="880" y1="956" x2="880" y2="973.3" stroke="#000" stroke-width="3.2"/>
<text x="879.5" y="1018.6" text-anchor="middle" style="font-family:'Liberation Serif','Times New Roman',serif;font-size:42.5px">4</text>
<line x1="999.5" y1="955" x2="1396.9" y2="955" stroke="#000" stroke-width="3.2"/>
<line x1="1001" y1="954.5" x2="1001" y2="971.8" stroke="#000" stroke-width="3.2"/>
<text x="1000.5" y="1018.6" text-anchor="middle" style="font-family:'Liberation Serif','Times New Roman',serif;font-size:42.5px">0</text>
<line x1="1080.8" y1="954.5" x2="1080.8" y2="971.8" stroke="#000" stroke-width="3.2"/>
<text x="1080.3" y="1018.6" text-anchor="middle" style="font-family:'Liberation Serif','Times New Roman',serif;font-size:42.5px">1</text>
<line x1="1160.6" y1="954.5" x2="1160.6" y2="971.8" stroke="#000" stroke-width="3.2"/>
<text x="1160.1" y="1018.6" text-anchor="middle" style="font-family:'Liberation Serif','Times New Roman',serif;font-size:42.5px">2</text>
<line x1="1240.4" y1="954.5" x2="1240.4" y2="971.8" stroke="#000" stroke-width="3.2"/>
<text x="1239.9" y="1018.6" text-anchor="middle" style="font-family:'Liberation Serif','Times New Roman',serif;font-size:42.5px">3</text>
<line x1="1320.2" y1="954.5" x2="1320.2" y2="971.8" stroke="#000" stroke-width="3.2"/>
<text x="1319.7" y="1018.6" text-anchor="middle" style="font-family:'Liberation Serif','Times New Roman',serif;font-size:42.5px">4</text>
<text x="111" y="36" style="font-family:'Liberation Serif','Times New Roman',serif;font-size:38.2px">(a) R=80μm</text>
<text x="109.8" y="272.8" style="font-family:'Liberation Serif','Times New Roman',serif;font-size:38.2px">(b)R=100μm</text>
<text x="109.8" y="508.3" style="font-family:'Liberation Serif','Times New Roman',serif;font-size:38.2px">(c)R=160μm</text>
<text x="108.3" y="753.4" style="font-family:'Liberation Serif','Times New Roman',serif;font-size:38.2px">(d) R=240μm</text>
<text x="659" y="29.6" style="font-family:'Liberation Serif','Times New Roman',serif;font-size:42.8px">log10(<tspan font-style="italic">n</tspan><tspan font-style="italic" font-size="28px" dy="10">e</tspan><tspan dy="-10">)</tspan></text>
<text x="759" y="1087.6" text-anchor="middle" style="font-family:'Liberation Serif','Times New Roman',serif;font-size:43px">r(mm)</text>
<text transform="translate(31,481.5) rotate(-90)" text-anchor="middle" style="font-family:'Liberation Serif','Times New Roman',serif;font-size:43.5px">z(mm)</text>
<text x="398.3" y="223" style="font-family:'Liberation Serif','Times New Roman',serif;font-size:43.5px;fill:#ff1c1c">ε<tspan font-size="28px" dy="11">r</tspan><tspan dy="-11">=2</tspan></text>
<text x="843.5" y="226.2" style="font-family:'Liberation Serif','Times New Roman',serif;font-size:43.5px;fill:#ff1c1c">ε<tspan font-size="28px" dy="11">r</tspan><tspan dy="-11">=20</tspan></text>
<text x="1291.3" y="227" style="font-family:'Liberation Serif','Times New Roman',serif;font-size:43.5px;fill:#ff1c1c">ε<tspan font-size="28px" dy="11">r</tspan><tspan dy="-11">=80</tspan></text>
<rect x="1419.6" y="187.4" width="33.8" height="612.2" fill="url(#cbg)" stroke="#1a0a0a" stroke-width="2.4"/>
<line x1="1419.6" y1="289.4" x2="1424.6" y2="289.4" stroke="#111" stroke-width="1.6"/>
<line x1="1448.4" y1="289.4" x2="1453.4" y2="289.4" stroke="#111" stroke-width="1.6"/>
<line x1="1419.6" y1="391.5" x2="1424.6" y2="391.5" stroke="#111" stroke-width="1.6"/>
<line x1="1448.4" y1="391.5" x2="1453.4" y2="391.5" stroke="#111" stroke-width="1.6"/>
<line x1="1419.6" y1="493.5" x2="1424.6" y2="493.5" stroke="#111" stroke-width="1.6"/>
<line x1="1448.4" y1="493.5" x2="1453.4" y2="493.5" stroke="#111" stroke-width="1.6"/>
<line x1="1419.6" y1="595.5" x2="1424.6" y2="595.5" stroke="#111" stroke-width="1.6"/>
<line x1="1448.4" y1="595.5" x2="1453.4" y2="595.5" stroke="#111" stroke-width="1.6"/>
<line x1="1419.6" y1="697.6" x2="1424.6" y2="697.6" stroke="#111" stroke-width="1.6"/>
<line x1="1448.4" y1="697.6" x2="1453.4" y2="697.6" stroke="#111" stroke-width="1.6"/>
<text x="1456" y="213.9" style="font-family:'Liberation Serif','Times New Roman',serif;font-size:45px">20</text>
<text x="1456" y="407.3" style="font-family:'Liberation Serif','Times New Roman',serif;font-size:45px">19</text>
<text x="1456" y="611.8" style="font-family:'Liberation Serif','Times New Roman',serif;font-size:45px">18</text>
<text x="1456" y="809.6" style="font-family:'Liberation Serif','Times New Roman',serif;font-size:45px">17</text>
</svg>
</body></html>
